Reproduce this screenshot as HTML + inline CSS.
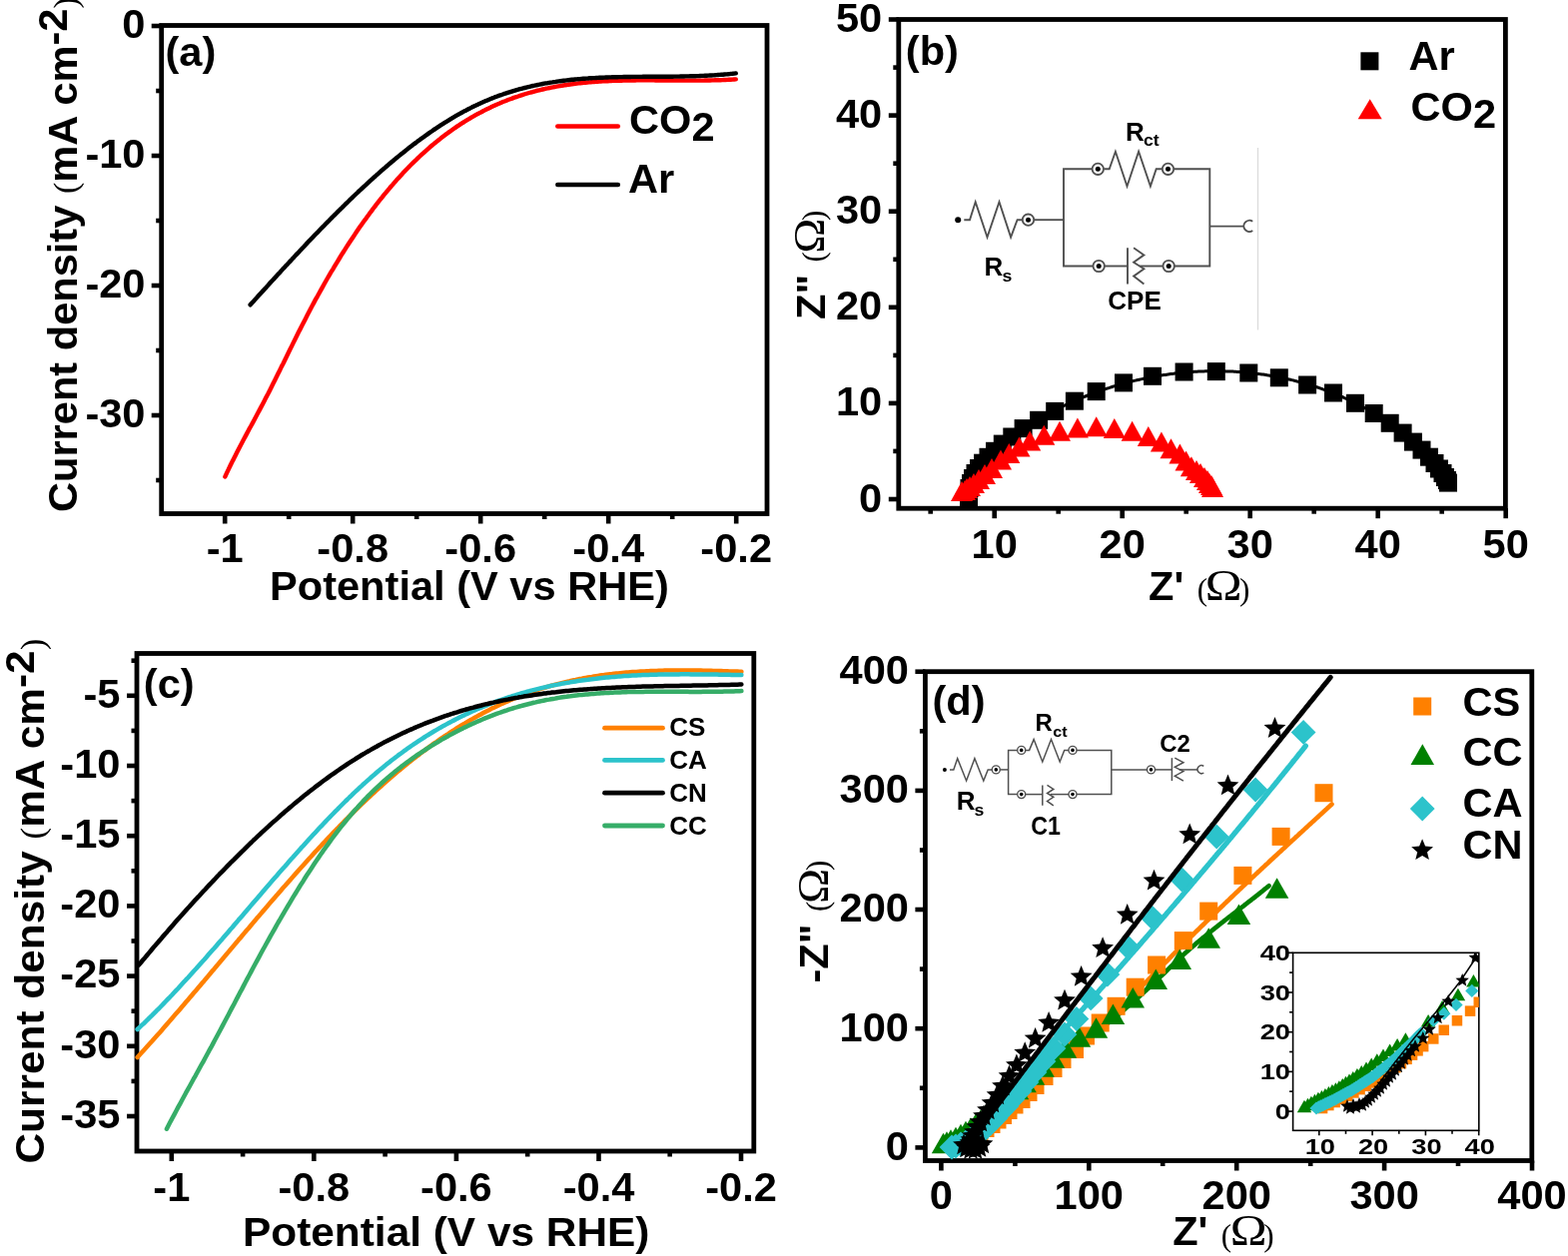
<!DOCTYPE html>
<html><head><meta charset="utf-8"><title>Figure</title>
<style>html,body{margin:0;padding:0;background:#fff;}svg{display:block;}</style></head>
<body><svg width="1570" height="1258" viewBox="0 0 1570 1258">
<rect width="1570" height="1258" fill="#fff"/>
<rect x="161.7" y="25.5" width="606.3" height="489.0" fill="none" stroke="#000" stroke-width="4.8" stroke-linejoin="miter"/><line x1="225.2" y1="514.5" x2="225.2" y2="524.5" stroke="#000" stroke-width="4.6" stroke-linecap="butt"/><line x1="353.2" y1="514.5" x2="353.2" y2="524.5" stroke="#000" stroke-width="4.6" stroke-linecap="butt"/><line x1="481.2" y1="514.5" x2="481.2" y2="524.5" stroke="#000" stroke-width="4.6" stroke-linecap="butt"/><line x1="609.2" y1="514.5" x2="609.2" y2="524.5" stroke="#000" stroke-width="4.6" stroke-linecap="butt"/><line x1="737.2" y1="514.5" x2="737.2" y2="524.5" stroke="#000" stroke-width="4.6" stroke-linecap="butt"/><line x1="289.2" y1="514.5" x2="289.2" y2="520.0" stroke="#000" stroke-width="4.6" stroke-linecap="butt"/><line x1="417.2" y1="514.5" x2="417.2" y2="520.0" stroke="#000" stroke-width="4.6" stroke-linecap="butt"/><line x1="545.2" y1="514.5" x2="545.2" y2="520.0" stroke="#000" stroke-width="4.6" stroke-linecap="butt"/><line x1="673.2" y1="514.5" x2="673.2" y2="520.0" stroke="#000" stroke-width="4.6" stroke-linecap="butt"/><line x1="151.7" y1="26.0" x2="161.7" y2="26.0" stroke="#000" stroke-width="4.6" stroke-linecap="butt"/><line x1="151.7" y1="156.0" x2="161.7" y2="156.0" stroke="#000" stroke-width="4.6" stroke-linecap="butt"/><line x1="151.7" y1="286.0" x2="161.7" y2="286.0" stroke="#000" stroke-width="4.6" stroke-linecap="butt"/><line x1="151.7" y1="416.0" x2="161.7" y2="416.0" stroke="#000" stroke-width="4.6" stroke-linecap="butt"/><line x1="156.2" y1="91.0" x2="161.7" y2="91.0" stroke="#000" stroke-width="4.6" stroke-linecap="butt"/><line x1="156.2" y1="221.0" x2="161.7" y2="221.0" stroke="#000" stroke-width="4.6" stroke-linecap="butt"/><line x1="156.2" y1="351.0" x2="161.7" y2="351.0" stroke="#000" stroke-width="4.6" stroke-linecap="butt"/><line x1="156.2" y1="481.0" x2="161.7" y2="481.0" stroke="#000" stroke-width="4.6" stroke-linecap="butt"/><text transform="translate(225.2,563.0) scale(1.040,1)" font-size="40" text-anchor="middle" font-family="'Liberation Sans', Arial, sans-serif" font-weight="bold" >-1</text><text transform="translate(353.2,563.0) scale(1.040,1)" font-size="40" text-anchor="middle" font-family="'Liberation Sans', Arial, sans-serif" font-weight="bold" >-0.8</text><text transform="translate(481.2,563.0) scale(1.040,1)" font-size="40" text-anchor="middle" font-family="'Liberation Sans', Arial, sans-serif" font-weight="bold" >-0.6</text><text transform="translate(609.2,563.0) scale(1.040,1)" font-size="40" text-anchor="middle" font-family="'Liberation Sans', Arial, sans-serif" font-weight="bold" >-0.4</text><text transform="translate(737.2,563.0) scale(1.040,1)" font-size="40" text-anchor="middle" font-family="'Liberation Sans', Arial, sans-serif" font-weight="bold" >-0.2</text><text transform="translate(145.5,38.0) scale(1.040,1)" font-size="40" text-anchor="end" font-family="'Liberation Sans', Arial, sans-serif" font-weight="bold" >0</text><text transform="translate(145.5,168.0) scale(1.040,1)" font-size="40" text-anchor="end" font-family="'Liberation Sans', Arial, sans-serif" font-weight="bold" >-10</text><text transform="translate(145.5,298.0) scale(1.040,1)" font-size="40" text-anchor="end" font-family="'Liberation Sans', Arial, sans-serif" font-weight="bold" >-20</text><text transform="translate(145.5,428.0) scale(1.040,1)" font-size="40" text-anchor="end" font-family="'Liberation Sans', Arial, sans-serif" font-weight="bold" >-30</text><text transform="translate(270.0,600.5) scale(1.040,1)" font-size="40" text-anchor="start" font-family="'Liberation Sans', Arial, sans-serif" font-weight="bold" >Potential (V vs RHE)</text><text transform="translate(77,513) rotate(-90) scale(1.040,1)" font-size="40" font-family="'Liberation Sans', Arial, sans-serif" font-weight="bold">Current density <tspan font-family="'Liberation Serif', serif" font-weight="normal" font-size="33">(</tspan>mA cm<tspan dy="-10">-2</tspan><tspan dy="10" font-family="'Liberation Serif', serif" font-weight="normal" font-size="33">)</tspan></text><text transform="translate(165.5,66.0) scale(1.040,1)" font-size="40" text-anchor="start" font-family="'Liberation Sans', Arial, sans-serif" font-weight="bold" >(a)</text><polyline points="225.4,477.4 227.1,473.7 228.8,470.1 230.5,466.5 232.2,463.0 234.0,459.6 235.7,456.2 237.4,452.8 239.1,449.5 240.8,446.3 242.5,443.0 244.2,439.8 245.9,436.6 247.6,433.4 249.3,430.2 251.1,427.0 252.8,423.9 254.5,420.7 256.2,417.5 257.9,414.3 259.6,411.1 261.3,407.9 263.0,404.7 264.7,401.4 266.4,398.1 268.2,394.8 269.9,391.4 271.6,388.0 273.3,384.6 275.0,381.2 276.7,377.8 278.4,374.3 280.1,370.9 281.8,367.4 283.6,364.0 285.3,360.5 287.0,357.0 288.7,353.5 290.4,350.1 292.1,346.6 293.8,343.1 295.5,339.7 297.2,336.3 298.9,332.8 300.7,329.4 302.4,326.1 304.1,322.7 305.8,319.4 307.5,316.1 309.2,312.8 310.9,309.5 312.6,306.3 314.3,303.1 316.0,299.9 317.8,296.8 319.5,293.7 321.2,290.6 322.9,287.6 324.6,284.5 326.3,281.5 328.0,278.5 329.7,275.6 331.4,272.7 333.2,269.8 334.9,266.9 336.6,264.1 338.3,261.3 340.0,258.5 341.7,255.7 343.4,253.0 345.1,250.3 346.8,247.6 348.5,245.0 350.3,242.3 352.0,239.7 353.7,237.2 355.4,234.6 357.1,232.1 358.8,229.6 360.5,227.1 362.2,224.7 363.9,222.3 365.7,219.9 367.4,217.5 369.1,215.2 370.8,212.8 372.5,210.6 374.2,208.3 375.9,206.1 377.6,203.8 379.3,201.7 381.0,199.5 382.8,197.4 384.5,195.2 386.2,193.2 387.9,191.1 389.6,189.1 391.3,187.0 393.0,185.1 394.7,183.1 396.4,181.2 398.1,179.2 399.9,177.4 401.6,175.5 403.3,173.6 405.0,171.8 406.7,170.0 408.4,168.3 410.1,166.5 411.8,164.8 413.5,163.1 415.3,161.4 417.0,159.8 418.7,158.1 420.4,156.5 422.1,154.9 423.8,153.4 425.5,151.8 427.2,150.3 428.9,148.8 430.6,147.3 432.4,145.8 434.1,144.4 435.8,143.0 437.5,141.6 439.2,140.2 440.9,138.9 442.6,137.5 444.3,136.2 446.0,134.9 447.7,133.7 449.5,132.4 451.2,131.2 452.9,130.0 454.6,128.8 456.3,127.6 458.0,126.4 459.7,125.3 461.4,124.2 463.1,123.1 464.9,122.0 466.6,120.9 468.3,119.9 470.0,118.9 471.7,117.8 473.4,116.9 475.1,115.9 476.8,114.9 478.5,114.0 480.2,113.1 482.0,112.2 483.7,111.3 485.4,110.4 487.1,109.5 488.8,108.7 490.5,107.9 492.2,107.1 493.9,106.3 495.6,105.5 497.3,104.7 499.1,104.0 500.8,103.3 502.5,102.5 504.2,101.8 505.9,101.2 507.6,100.5 509.3,99.8 511.0,99.2 512.7,98.6 514.5,97.9 516.2,97.3 517.9,96.8 519.6,96.2 521.3,95.6 523.0,95.1 524.7,94.5 526.4,94.0 528.1,93.5 529.8,93.0 531.6,92.5 533.3,92.1 535.0,91.6 536.7,91.2 538.4,90.7 540.1,90.3 541.8,89.9 543.5,89.5 545.2,89.1 546.9,88.7 548.7,88.4 550.4,88.0 552.1,87.6 553.8,87.3 555.5,87.0 557.2,86.7 558.9,86.4 560.6,86.1 562.3,85.8 564.1,85.5 565.8,85.2 567.5,85.0 569.2,84.7 570.9,84.5 572.6,84.3 574.3,84.0 576.0,83.8 577.7,83.6 579.4,83.4 581.2,83.2 582.9,83.1 584.6,82.9 586.3,82.7 588.0,82.6 589.7,82.4 591.4,82.3 593.1,82.1 594.8,82.0 596.5,81.9 598.3,81.7 600.0,81.6 601.7,81.5 603.4,81.4 605.1,81.3 606.8,81.2 608.5,81.2 610.2,81.1 611.9,81.0 613.7,80.9 615.4,80.9 617.1,80.8 618.8,80.8 620.5,80.7 622.2,80.7 623.9,80.6 625.6,80.6 627.3,80.6 629.0,80.5 630.8,80.5 632.5,80.5 634.2,80.5 635.9,80.5 637.6,80.4 639.3,80.4 641.0,80.4 642.7,80.4 644.4,80.4 646.2,80.4 647.9,80.4 649.6,80.4 651.3,80.4 653.0,80.4 654.7,80.4 656.4,80.5 658.1,80.5 659.8,80.5 661.5,80.5 663.3,80.5 665.0,80.5 666.7,80.5 668.4,80.5 670.1,80.5 671.8,80.6 673.5,80.6 675.2,80.6 676.9,80.6 678.6,80.6 680.4,80.6 682.1,80.6 683.8,80.6 685.5,80.6 687.2,80.6 688.9,80.6 690.6,80.6 692.3,80.6 694.0,80.6 695.8,80.6 697.5,80.6 699.2,80.6 700.9,80.6 702.6,80.6 704.3,80.6 706.0,80.5 707.7,80.5 709.4,80.5 711.1,80.5 712.9,80.4 714.6,80.4 716.3,80.3 718.0,80.3 719.7,80.2 721.4,80.2 723.1,80.1 724.8,80.0 726.5,80.0 728.2,79.9 730.0,79.8 731.7,79.7 733.4,79.6 735.1,79.5 736.8,79.4" fill="none" stroke="#ff0000" stroke-width="4.4" stroke-linejoin="round" stroke-linecap="round" /><polyline points="250.6,305.3 252.2,303.5 253.9,301.7 255.5,299.9 257.1,298.1 258.7,296.3 260.4,294.5 262.0,292.8 263.6,291.0 265.2,289.2 266.9,287.4 268.5,285.6 270.1,283.8 271.7,282.0 273.4,280.3 275.0,278.5 276.6,276.7 278.2,274.9 279.9,273.2 281.5,271.4 283.1,269.6 284.7,267.9 286.4,266.1 288.0,264.4 289.6,262.6 291.3,260.9 292.9,259.1 294.5,257.4 296.1,255.6 297.8,253.9 299.4,252.2 301.0,250.4 302.6,248.7 304.3,247.0 305.9,245.3 307.5,243.5 309.1,241.8 310.8,240.1 312.4,238.4 314.0,236.7 315.6,235.0 317.3,233.4 318.9,231.7 320.5,230.0 322.1,228.3 323.8,226.7 325.4,225.0 327.0,223.3 328.7,221.7 330.3,220.0 331.9,218.4 333.5,216.8 335.2,215.1 336.8,213.5 338.4,211.9 340.0,210.3 341.7,208.7 343.3,207.1 344.9,205.5 346.5,203.9 348.2,202.3 349.8,200.7 351.4,199.2 353.0,197.6 354.7,196.0 356.3,194.5 357.9,193.0 359.5,191.4 361.2,189.9 362.8,188.4 364.4,186.9 366.1,185.4 367.7,183.9 369.3,182.4 370.9,180.9 372.6,179.4 374.2,177.9 375.8,176.5 377.4,175.0 379.1,173.6 380.7,172.2 382.3,170.7 383.9,169.3 385.6,167.9 387.2,166.5 388.8,165.1 390.4,163.7 392.1,162.3 393.7,161.0 395.3,159.6 396.9,158.3 398.6,156.9 400.2,155.6 401.8,154.3 403.5,153.0 405.1,151.7 406.7,150.4 408.3,149.1 410.0,147.8 411.6,146.6 413.2,145.3 414.8,144.1 416.5,142.9 418.1,141.6 419.7,140.4 421.3,139.2 423.0,138.1 424.6,136.9 426.2,135.7 427.8,134.6 429.5,133.4 431.1,132.3 432.7,131.2 434.3,130.0 436.0,129.0 437.6,127.9 439.2,126.8 440.9,125.7 442.5,124.7 444.1,123.6 445.7,122.6 447.4,121.6 449.0,120.6 450.6,119.6 452.2,118.6 453.9,117.6 455.5,116.7 457.1,115.7 458.7,114.8 460.4,113.9 462.0,113.0 463.6,112.1 465.2,111.2 466.9,110.4 468.5,109.5 470.1,108.7 471.7,107.9 473.4,107.0 475.0,106.2 476.6,105.5 478.3,104.7 479.9,103.9 481.5,103.2 483.1,102.5 484.8,101.8 486.4,101.1 488.0,100.4 489.6,99.7 491.3,99.0 492.9,98.4 494.5,97.8 496.1,97.1 497.8,96.5 499.4,95.9 501.0,95.3 502.6,94.8 504.3,94.2 505.9,93.7 507.5,93.1 509.1,92.6 510.8,92.1 512.4,91.6 514.0,91.1 515.7,90.6 517.3,90.1 518.9,89.7 520.5,89.2 522.2,88.8 523.8,88.4 525.4,88.0 527.0,87.6 528.7,87.2 530.3,86.8 531.9,86.4 533.5,86.0 535.2,85.7 536.8,85.3 538.4,85.0 540.0,84.7 541.7,84.3 543.3,84.0 544.9,83.7 546.5,83.4 548.2,83.2 549.8,82.9 551.4,82.6 553.1,82.4 554.7,82.1 556.3,81.9 557.9,81.6 559.6,81.4 561.2,81.2 562.8,81.0 564.4,80.8 566.1,80.6 567.7,80.4 569.3,80.2 570.9,80.0 572.6,79.8 574.2,79.7 575.8,79.5 577.4,79.4 579.1,79.2 580.7,79.1 582.3,78.9 583.9,78.8 585.6,78.7 587.2,78.6 588.8,78.5 590.5,78.3 592.1,78.2 593.7,78.1 595.3,78.1 597.0,78.0 598.6,77.9 600.2,77.8 601.8,77.7 603.5,77.7 605.1,77.6 606.7,77.5 608.3,77.5 610.0,77.4 611.6,77.4 613.2,77.3 614.8,77.3 616.5,77.2 618.1,77.2 619.7,77.1 621.3,77.1 623.0,77.1 624.6,77.0 626.2,77.0 627.9,77.0 629.5,77.0 631.1,77.0 632.7,76.9 634.4,76.9 636.0,76.9 637.6,76.9 639.2,76.9 640.9,76.9 642.5,76.9 644.1,76.8 645.7,76.8 647.4,76.8 649.0,76.8 650.6,76.8 652.2,76.8 653.9,76.8 655.5,76.8 657.1,76.8 658.7,76.8 660.4,76.8 662.0,76.7 663.6,76.7 665.3,76.7 666.9,76.7 668.5,76.7 670.1,76.7 671.8,76.7 673.4,76.7 675.0,76.6 676.6,76.6 678.3,76.6 679.9,76.6 681.5,76.5 683.1,76.5 684.8,76.5 686.4,76.4 688.0,76.4 689.6,76.4 691.3,76.3 692.9,76.3 694.5,76.2 696.1,76.2 697.8,76.1 699.4,76.1 701.0,76.0 702.7,75.9 704.3,75.9 705.9,75.8 707.5,75.7 709.2,75.6 710.8,75.5 712.4,75.5 714.0,75.4 715.7,75.3 717.3,75.1 718.9,75.0 720.5,74.9 722.2,74.8 723.8,74.7 725.4,74.5 727.0,74.4 728.7,74.3 730.3,74.1 731.9,73.9 733.5,73.8 735.2,73.6 736.8,73.4" fill="none" stroke="#000" stroke-width="4.4" stroke-linejoin="round" stroke-linecap="round" /><line x1="558.3" y1="126.4" x2="618.8" y2="126.4" stroke="#ff0000" stroke-width="4.5" stroke-linecap="round"/><line x1="558.3" y1="185.0" x2="618.8" y2="185.0" stroke="#000" stroke-width="4.5" stroke-linecap="round"/><text transform="translate(630.0,134.4) scale(1.040,1)" font-size="40" text-anchor="start" font-family="'Liberation Sans', Arial, sans-serif" font-weight="bold" >CO<tspan dy="7">2</tspan></text><text transform="translate(629.0,192.5) scale(1.040,1)" font-size="40" text-anchor="start" font-family="'Liberation Sans', Arial, sans-serif" font-weight="bold" >Ar</text><rect x="899.8" y="19.5" width="607.6" height="489.7" fill="none" stroke="#000" stroke-width="4.8" stroke-linejoin="miter"/><line x1="995.7" y1="509.2" x2="995.7" y2="519.2" stroke="#000" stroke-width="4.6" stroke-linecap="butt"/><line x1="1123.7" y1="509.2" x2="1123.7" y2="519.2" stroke="#000" stroke-width="4.6" stroke-linecap="butt"/><line x1="1251.7" y1="509.2" x2="1251.7" y2="519.2" stroke="#000" stroke-width="4.6" stroke-linecap="butt"/><line x1="1379.7" y1="509.2" x2="1379.7" y2="519.2" stroke="#000" stroke-width="4.6" stroke-linecap="butt"/><line x1="1507.7" y1="509.2" x2="1507.7" y2="519.2" stroke="#000" stroke-width="4.6" stroke-linecap="butt"/><line x1="931.7" y1="509.2" x2="931.7" y2="514.7" stroke="#000" stroke-width="4.6" stroke-linecap="butt"/><line x1="1059.7" y1="509.2" x2="1059.7" y2="514.7" stroke="#000" stroke-width="4.6" stroke-linecap="butt"/><line x1="1187.7" y1="509.2" x2="1187.7" y2="514.7" stroke="#000" stroke-width="4.6" stroke-linecap="butt"/><line x1="1315.7" y1="509.2" x2="1315.7" y2="514.7" stroke="#000" stroke-width="4.6" stroke-linecap="butt"/><line x1="1443.7" y1="509.2" x2="1443.7" y2="514.7" stroke="#000" stroke-width="4.6" stroke-linecap="butt"/><line x1="889.8" y1="500.0" x2="899.8" y2="500.0" stroke="#000" stroke-width="4.6" stroke-linecap="butt"/><line x1="889.8" y1="403.9" x2="899.8" y2="403.9" stroke="#000" stroke-width="4.6" stroke-linecap="butt"/><line x1="889.8" y1="307.8" x2="899.8" y2="307.8" stroke="#000" stroke-width="4.6" stroke-linecap="butt"/><line x1="889.8" y1="211.7" x2="899.8" y2="211.7" stroke="#000" stroke-width="4.6" stroke-linecap="butt"/><line x1="889.8" y1="115.6" x2="899.8" y2="115.6" stroke="#000" stroke-width="4.6" stroke-linecap="butt"/><line x1="889.8" y1="19.5" x2="899.8" y2="19.5" stroke="#000" stroke-width="4.6" stroke-linecap="butt"/><line x1="894.3" y1="451.9" x2="899.8" y2="451.9" stroke="#000" stroke-width="4.6" stroke-linecap="butt"/><line x1="894.3" y1="355.9" x2="899.8" y2="355.9" stroke="#000" stroke-width="4.6" stroke-linecap="butt"/><line x1="894.3" y1="259.8" x2="899.8" y2="259.8" stroke="#000" stroke-width="4.6" stroke-linecap="butt"/><line x1="894.3" y1="163.7" x2="899.8" y2="163.7" stroke="#000" stroke-width="4.6" stroke-linecap="butt"/><line x1="894.3" y1="67.6" x2="899.8" y2="67.6" stroke="#000" stroke-width="4.6" stroke-linecap="butt"/><text transform="translate(995.7,558.5) scale(1.040,1)" font-size="40" text-anchor="middle" font-family="'Liberation Sans', Arial, sans-serif" font-weight="bold" >10</text><text transform="translate(1123.7,558.5) scale(1.040,1)" font-size="40" text-anchor="middle" font-family="'Liberation Sans', Arial, sans-serif" font-weight="bold" >20</text><text transform="translate(1251.7,558.5) scale(1.040,1)" font-size="40" text-anchor="middle" font-family="'Liberation Sans', Arial, sans-serif" font-weight="bold" >30</text><text transform="translate(1379.7,558.5) scale(1.040,1)" font-size="40" text-anchor="middle" font-family="'Liberation Sans', Arial, sans-serif" font-weight="bold" >40</text><text transform="translate(1507.7,558.5) scale(1.040,1)" font-size="40" text-anchor="middle" font-family="'Liberation Sans', Arial, sans-serif" font-weight="bold" >50</text><text transform="translate(883.2,512.5) scale(1.040,1)" font-size="40" text-anchor="end" font-family="'Liberation Sans', Arial, sans-serif" font-weight="bold" >0</text><text transform="translate(883.2,416.4) scale(1.040,1)" font-size="40" text-anchor="end" font-family="'Liberation Sans', Arial, sans-serif" font-weight="bold" >10</text><text transform="translate(883.2,320.3) scale(1.040,1)" font-size="40" text-anchor="end" font-family="'Liberation Sans', Arial, sans-serif" font-weight="bold" >20</text><text transform="translate(883.2,224.2) scale(1.040,1)" font-size="40" text-anchor="end" font-family="'Liberation Sans', Arial, sans-serif" font-weight="bold" >30</text><text transform="translate(883.2,128.1) scale(1.040,1)" font-size="40" text-anchor="end" font-family="'Liberation Sans', Arial, sans-serif" font-weight="bold" >40</text><text transform="translate(883.2,32.0) scale(1.040,1)" font-size="40" text-anchor="end" font-family="'Liberation Sans', Arial, sans-serif" font-weight="bold" >50</text><text transform="translate(906.8,64.5) scale(1.040,1)" font-size="40" text-anchor="start" font-family="'Liberation Sans', Arial, sans-serif" font-weight="bold" >(b)</text><text transform="translate(1150.0,600.8) scale(1.040,1)" font-size="40" text-anchor="start" font-family="'Liberation Sans', Arial, sans-serif" font-weight="bold" >Z'</text><text transform="translate(1198.8,601.0) scale(1.000,1)" font-size="31" text-anchor="start" font-family="'Liberation Serif', 'Times New Roman', serif" >(</text><text transform="translate(1206.8,601.0) scale(1.100,1)" font-size="45" text-anchor="start" font-family="'Liberation Serif', 'Times New Roman', serif" >&#937;</text><text transform="translate(1241.0,601.0) scale(1.000,1)" font-size="31" text-anchor="start" font-family="'Liberation Serif', 'Times New Roman', serif" >)</text><text transform="translate(825.5,320.0) rotate(-90) scale(1.040,1)" font-size="40" text-anchor="start" font-family="'Liberation Sans', Arial, sans-serif" font-weight="bold" >Z"</text><text transform="translate(825.2,262.5) rotate(-90) scale(1.000,1)" font-size="31" text-anchor="start" font-family="'Liberation Serif', 'Times New Roman', serif" >(</text><text transform="translate(825.2,253.8) rotate(-90) scale(1.050,1)" font-size="45" text-anchor="start" font-family="'Liberation Serif', 'Times New Roman', serif" >&#937;</text><text transform="translate(825.2,221.0) rotate(-90) scale(1.000,1)" font-size="31" text-anchor="start" font-family="'Liberation Serif', 'Times New Roman', serif" >)</text><rect x="1362.4" y="52.3" width="18.0" height="18.0" fill="#000"/><polygon points="1371.7,99.3 1383.7,119.3 1359.7,119.3" fill="#ff0000"/><text transform="translate(1410.5,70.1) scale(1.040,1)" font-size="40" text-anchor="start" font-family="'Liberation Sans', Arial, sans-serif" font-weight="bold" >Ar</text><text transform="translate(1412.5,121.1) scale(1.040,1)" font-size="40" text-anchor="start" font-family="'Liberation Sans', Arial, sans-serif" font-weight="bold" >CO<tspan dy="7">2</tspan></text><line x1="1259.5" y1="148" x2="1259.5" y2="330.5" stroke="#dcdcdc" stroke-width="1.3"/><circle cx="959.2" cy="220.2" r="3" fill="#000"/><path d="M965.3,220.2 L971.0,220.2 L976.7,202.2 L988.5,237.6 L1000.5,202.2 L1012.1,237.6 L1018.6,220.2 L1023.5,220.2" fill="none" stroke="#505050" stroke-width="1.9" stroke-linejoin="miter" stroke-linecap="butt"/><path d="M1035.5,220.2 L1065.0,220.2" fill="none" stroke="#505050" stroke-width="1.9" stroke-linejoin="miter" stroke-linecap="butt"/><path d="M1093.5,169.3 L1065.0,169.3 L1065.0,266.5 L1094.0,266.5" fill="none" stroke="#505050" stroke-width="1.9" stroke-linejoin="miter" stroke-linecap="butt"/><path d="M1105.3,169.3 L1110.7,169.3 L1116.9,151.8 L1128.5,186.6 L1140.1,151.8 L1151.9,186.6 L1157.7,169.3 L1163.5,169.3" fill="none" stroke="#505050" stroke-width="1.9" stroke-linejoin="miter" stroke-linecap="butt"/><path d="M1175.5,169.3 L1211.3,169.3 L1211.3,266.5 L1176.0,266.5" fill="none" stroke="#505050" stroke-width="1.9" stroke-linejoin="miter" stroke-linecap="butt"/><path d="M1106.0,266.5 L1129.0,266.5" fill="none" stroke="#505050" stroke-width="1.9" stroke-linejoin="miter" stroke-linecap="butt"/><path d="M1129.0,248.2 L1129.0,284.5" fill="none" stroke="#505050" stroke-width="1.9" stroke-linejoin="miter" stroke-linecap="butt"/><path d="M1135.1,248.2 L1145.4,255.4 L1135.1,262.7 L1145.4,269.3 L1135.1,276.6 L1145.4,284.5" fill="none" stroke="#505050" stroke-width="1.9" stroke-linejoin="miter" stroke-linecap="butt"/><path d="M1141.3,266.5 L1164.3,266.5" fill="none" stroke="#505050" stroke-width="1.9" stroke-linejoin="miter" stroke-linecap="butt"/><path d="M1211.3,226.6 L1245.3,226.6" fill="none" stroke="#505050" stroke-width="1.9" stroke-linejoin="miter" stroke-linecap="butt"/><path d="M1254.2,221.8 A5.6,5.6 0 1 0 1254.2,231.0" fill="none" stroke="#505050" stroke-width="1.9"/><circle cx="1029.5" cy="220.2" r="5.7" fill="#fff" stroke="#505050" stroke-width="1.8"/><circle cx="1029.5" cy="220.2" r="2.5" fill="#000"/><circle cx="1099.3" cy="169.3" r="5.7" fill="#fff" stroke="#505050" stroke-width="1.8"/><circle cx="1099.3" cy="169.3" r="2.5" fill="#000"/><circle cx="1169.5" cy="169.3" r="5.7" fill="#fff" stroke="#505050" stroke-width="1.8"/><circle cx="1169.5" cy="169.3" r="2.5" fill="#000"/><circle cx="1100.2" cy="266.5" r="5.7" fill="#fff" stroke="#505050" stroke-width="1.8"/><circle cx="1100.2" cy="266.5" r="2.5" fill="#000"/><circle cx="1170.2" cy="266.5" r="5.7" fill="#fff" stroke="#505050" stroke-width="1.8"/><circle cx="1170.2" cy="266.5" r="2.5" fill="#000"/><text transform="translate(1127.0,140.6) scale(1.040,1)" font-size="25" text-anchor="start" font-family="'Liberation Sans', Arial, sans-serif" font-weight="bold" >R</text><text transform="translate(1145.0,146.4) scale(1.040,1)" font-size="17" text-anchor="start" font-family="'Liberation Sans', Arial, sans-serif" font-weight="bold" >ct</text><text transform="translate(985.5,276.1) scale(1.040,1)" font-size="25" text-anchor="start" font-family="'Liberation Sans', Arial, sans-serif" font-weight="bold" >R</text><text transform="translate(1003.5,282.2) scale(1.040,1)" font-size="17" text-anchor="start" font-family="'Liberation Sans', Arial, sans-serif" font-weight="bold" >s</text><text transform="translate(1109.3,309.9) scale(1.040,1)" font-size="25" text-anchor="start" font-family="'Liberation Sans', Arial, sans-serif" font-weight="bold" >CPE</text><polyline points="965.3,481.0 966.2,480.0 967.1,479.0 968.0,478.0 969.0,477.0 969.9,476.0 970.9,474.9 971.8,473.9 972.8,473.0 973.7,472.0 974.7,471.0 975.7,470.0 976.6,469.0 977.6,468.1 978.6,467.1 979.6,466.1 980.6,465.2 981.6,464.2 982.6,463.3 983.6,462.3 984.6,461.4 985.6,460.4 986.6,459.5 987.6,458.6 988.6,457.7 989.7,456.7 990.7,455.8 991.7,454.9 992.8,454.0 993.8,453.1 994.9,452.2 995.9,451.3 997.0,450.5 998.0,449.6 999.1,448.7 1000.2,447.8 1001.2,447.0 1002.3,446.1 1003.4,445.2 1004.5,444.4 1005.5,443.5 1006.6,442.7 1007.7,441.8 1008.8,441.0 1009.9,440.2 1011.0,439.4 1012.1,438.5 1013.2,437.7 1014.4,436.9 1015.5,436.1 1016.6,435.3 1017.7,434.5 1018.8,433.7 1020.0,432.9 1021.1,432.1 1022.2,431.4 1023.4,430.6 1024.5,429.8 1025.7,429.1 1026.8,428.3 1028.0,427.5 1029.1,426.8 1030.3,426.0 1031.5,425.3 1032.6,424.6 1033.8,423.8 1035.0,423.1 1036.1,422.4 1037.3,421.7 1038.5,421.0 1039.7,420.3 1040.9,419.6 1042.1,418.9 1043.3,418.2 1044.5,417.5 1045.7,416.8 1046.9,416.1 1048.1,415.4 1049.3,414.8 1050.5,414.1 1051.7,413.5 1052.9,412.8 1054.1,412.2 1055.4,411.5 1056.6,410.9 1057.8,410.2 1059.0,409.6 1060.3,409.0 1061.5,408.4 1062.7,407.8 1064.0,407.1 1065.2,406.5 1066.5,405.9 1067.7,405.3 1069.0,404.8 1070.2,404.2 1071.5,403.6 1072.7,403.0 1074.0,402.4 1075.3,401.9 1076.5,401.3 1077.8,400.8 1079.1,400.2 1080.3,399.7 1081.6,399.1 1082.9,398.6 1084.2,398.1 1085.4,397.5 1086.7,397.0 1088.0,396.5 1089.3,396.0 1090.6,395.5 1091.9,395.0 1093.2,394.5 1094.5,394.0 1095.8,393.5 1097.1,393.1 1098.4,392.6 1099.7,392.1 1101.0,391.7 1102.3,391.2 1103.6,390.7 1104.9,390.3 1106.2,389.9 1107.5,389.4 1108.8,389.0 1110.1,388.6 1111.5,388.1 1112.8,387.7 1114.1,387.3 1115.4,386.9 1116.8,386.5 1118.1,386.1 1119.4,385.7 1120.8,385.3 1122.1,384.9 1123.4,384.6 1124.8,384.2 1126.1,383.8 1127.4,383.5 1128.8,383.1 1130.1,382.8 1131.5,382.4 1132.8,382.1 1134.1,381.8 1135.5,381.4 1136.8,381.1 1138.2,380.8 1139.5,380.5 1140.9,380.2 1142.2,379.9 1143.6,379.6 1145.0,379.3 1146.3,379.0 1147.7,378.7 1149.0,378.5 1150.4,378.2 1151.7,377.9 1153.1,377.7 1154.5,377.4 1155.8,377.2 1157.2,376.9 1158.6,376.7 1159.9,376.4 1161.3,376.2 1162.7,376.0 1164.0,375.8 1165.4,375.6 1166.8,375.4 1168.2,375.2 1169.5,375.0 1170.9,374.8 1172.3,374.6 1173.6,374.4 1175.0,374.3 1176.4,374.1 1177.8,373.9 1179.2,373.8 1180.5,373.6 1181.9,373.5 1183.3,373.3 1184.7,373.2 1186.0,373.1 1187.4,373.0 1188.8,372.8 1190.2,372.7 1191.6,372.6 1193.0,372.5 1194.3,372.4 1195.7,372.3 1197.1,372.3 1198.5,372.2 1199.9,372.1 1201.3,372.0 1202.6,372.0 1204.0,371.9 1205.4,371.9 1206.8,371.8 1208.2,371.8 1209.6,371.8 1211.0,371.7 1212.3,371.7 1213.7,371.7 1215.1,371.7 1216.5,371.7 1217.9,371.7 1219.3,371.7 1220.7,371.7 1222.0,371.7 1223.4,371.7 1224.8,371.8 1226.2,371.8 1227.6,371.9 1229.0,371.9 1230.4,371.9 1231.7,372.0 1233.1,372.1 1234.5,372.1 1235.9,372.2 1237.3,372.3 1238.7,372.4 1240.0,372.5 1241.4,372.6 1242.8,372.7 1244.2,372.8 1245.6,372.9 1246.9,373.0 1248.3,373.1 1249.7,373.3 1251.1,373.4 1252.5,373.6 1253.8,373.7 1255.2,373.9 1256.6,374.0 1258.0,374.2 1259.3,374.4 1260.7,374.6 1262.1,374.7 1263.5,374.9 1264.8,375.1 1266.2,375.3 1267.6,375.5 1268.9,375.8 1270.3,376.0 1271.7,376.2 1273.0,376.4 1274.4,376.7 1275.8,376.9 1277.1,377.2 1278.5,377.4 1279.9,377.7 1281.2,377.9 1282.6,378.2 1283.9,378.5 1285.3,378.8 1286.6,379.1 1288.0,379.4 1289.3,379.7 1290.7,380.0 1292.0,380.3 1293.4,380.6 1294.7,380.9 1296.1,381.3 1297.4,381.6 1298.8,382.0 1300.1,382.3 1301.4,382.7 1302.8,383.0 1304.1,383.4 1305.4,383.8 1306.8,384.1 1308.1,384.5 1309.4,384.9 1310.7,385.3 1312.1,385.7 1313.4,386.1 1314.7,386.5 1316.0,387.0 1317.3,387.4 1318.6,387.8 1319.9,388.2 1321.3,388.7 1322.6,389.1 1323.9,389.6 1325.2,390.1 1326.5,390.5 1327.8,391.0 1329.1,391.5 1330.3,392.0 1331.6,392.5 1332.9,393.0 1334.2,393.5 1335.5,394.0 1336.8,394.5 1338.0,395.0 1339.3,395.5 1340.6,396.1 1341.8,396.6 1343.1,397.1 1344.4,397.7 1345.6,398.3 1346.9,398.8 1348.1,399.4 1349.4,400.0 1350.6,400.5 1351.9,401.1 1353.1,401.7 1354.4,402.3 1355.6,402.9 1356.8,403.5 1358.1,404.2 1359.3,404.8 1360.5,405.4 1361.7,406.0 1363.0,406.7 1364.2,407.3 1365.4,408.0 1366.6,408.6 1367.8,409.3 1369.0,410.0 1370.2,410.7 1371.4,411.3 1372.6,412.0 1373.8,412.7 1374.9,413.4 1376.1,414.1 1377.3,414.8 1378.5,415.6 1379.6,416.3 1380.8,417.0 1382.0,417.8 1383.1,418.5 1384.3,419.2 1385.4,420.0 1386.6,420.8 1387.7,421.5 1388.8,422.3 1390.0,423.1 1391.1,423.9 1392.2,424.7 1393.3,425.5 1394.5,426.3 1395.6,427.1 1396.7,427.9 1397.8,428.7 1398.9,429.5 1400.0,430.4 1401.1,431.2 1402.2,432.1 1403.3,432.9 1404.3,433.8 1405.4,434.6 1406.5,435.5 1407.5,436.4 1408.6,437.3 1409.7,438.2 1410.7,439.0 1411.8,439.9 1412.8,440.9 1413.8,441.8 1414.9,442.7 1415.9,443.6 1416.9,444.5 1417.9,445.5 1419.0,446.4 1420.0,447.4 1421.0,448.3 1422.0,449.3 1423.0,450.3 1424.0,451.2 1424.9,452.2 1425.9,453.2 1426.9,454.2 1427.9,455.2 1428.8,456.2 1429.8,457.2 1430.7,458.2 1431.7,459.3 1432.6,460.3 1433.6,461.3 1434.5,462.4 1435.4,463.4 1436.4,464.5 1437.3,465.5 1438.2,466.6 1439.1,467.7 1440.0,468.7 1440.9,469.8 1441.8,470.9 1442.7,472.0 1443.5,473.1 1444.4,474.2 1445.3,475.3 1446.1,476.5 1447.0,477.6 1447.8,478.7 1448.7,479.9 1449.5,481.0 1450.3,482.2 1451.2,483.3" fill="none" stroke="#000" stroke-width="3" stroke-linejoin="round" stroke-linecap="round" /><rect x="961.0" y="489.0" width="18.0" height="18.0" fill="#000"/><rect x="961.0" y="485.0" width="18.0" height="18.0" fill="#000"/><rect x="961.5" y="480.0" width="18.0" height="18.0" fill="#000"/><rect x="963.0" y="475.0" width="18.0" height="18.0" fill="#000"/><rect x="965.0" y="470.0" width="18.0" height="18.0" fill="#000"/><rect x="967.5" y="465.0" width="18.0" height="18.0" fill="#000"/><rect x="971.0" y="460.0" width="18.0" height="18.0" fill="#000"/><rect x="975.1" y="454.7" width="18.0" height="18.0" fill="#000"/><rect x="980.5" y="448.8" width="18.0" height="18.0" fill="#000"/><rect x="987.0" y="442.8" width="18.0" height="18.0" fill="#000"/><rect x="994.8" y="435.6" width="18.0" height="18.0" fill="#000"/><rect x="1004.3" y="428.5" width="18.0" height="18.0" fill="#000"/><rect x="1015.6" y="420.1" width="18.0" height="18.0" fill="#000"/><rect x="1031.1" y="411.8" width="18.0" height="18.0" fill="#000"/><rect x="1047.2" y="402.9" width="18.0" height="18.0" fill="#000"/><rect x="1066.9" y="392.7" width="18.0" height="18.0" fill="#000"/><rect x="1088.7" y="383.1" width="18.0" height="18.0" fill="#000"/><rect x="1116.0" y="374.4" width="18.0" height="18.0" fill="#000"/><rect x="1145.0" y="367.8" width="18.0" height="18.0" fill="#000"/><rect x="1176.6" y="363.5" width="18.0" height="18.0" fill="#000"/><rect x="1208.8" y="363.1" width="18.0" height="18.0" fill="#000"/><rect x="1241.3" y="364.5" width="18.0" height="18.0" fill="#000"/><rect x="1271.8" y="369.3" width="18.0" height="18.0" fill="#000"/><rect x="1300.1" y="376.5" width="18.0" height="18.0" fill="#000"/><rect x="1326.0" y="384.5" width="18.0" height="18.0" fill="#000"/><rect x="1348.0" y="394.8" width="18.0" height="18.0" fill="#000"/><rect x="1366.7" y="405.0" width="18.0" height="18.0" fill="#000"/><rect x="1382.7" y="414.8" width="18.0" height="18.0" fill="#000"/><rect x="1395.6" y="424.6" width="18.0" height="18.0" fill="#000"/><rect x="1405.9" y="433.6" width="18.0" height="18.0" fill="#000"/><rect x="1414.5" y="441.6" width="18.0" height="18.0" fill="#000"/><rect x="1422.0" y="448.7" width="18.0" height="18.0" fill="#000"/><rect x="1427.5" y="455.0" width="18.0" height="18.0" fill="#000"/><rect x="1432.0" y="460.5" width="18.0" height="18.0" fill="#000"/><rect x="1435.5" y="465.0" width="18.0" height="18.0" fill="#000"/><rect x="1438.0" y="469.0" width="18.0" height="18.0" fill="#000"/><rect x="1440.0" y="472.0" width="18.0" height="18.0" fill="#000"/><rect x="1441.0" y="474.6" width="18.0" height="18.0" fill="#000"/><polygon points="963.0,482.0 974.0,502.0 952.0,502.0" fill="#ff0000"/><polygon points="966.0,481.0 977.0,501.0 955.0,501.0" fill="#ff0000"/><polygon points="968.0,479.0 979.0,499.0 957.0,499.0" fill="#ff0000"/><polygon points="971.0,477.0 982.0,497.0 960.0,497.0" fill="#ff0000"/><polygon points="975.0,474.0 986.0,494.0 964.0,494.0" fill="#ff0000"/><polygon points="980.0,470.0 991.0,490.0 969.0,490.0" fill="#ff0000"/><polygon points="986.0,465.0 997.0,485.0 975.0,485.0" fill="#ff0000"/><polygon points="993.0,459.0 1004.0,479.0 982.0,479.0" fill="#ff0000"/><polygon points="1002.0,450.6 1013.0,470.6 991.0,470.6" fill="#ff0000"/><polygon points="1010.3,444.0 1021.3,464.0 999.3,464.0" fill="#ff0000"/><polygon points="1020.5,437.5 1031.5,457.5 1009.5,457.5" fill="#ff0000"/><polygon points="1031.2,431.5 1042.2,451.5 1020.2,451.5" fill="#ff0000"/><polygon points="1045.3,425.8 1056.3,445.8 1034.3,445.8" fill="#ff0000"/><polygon points="1061.0,421.7 1072.0,441.7 1050.0,441.7" fill="#ff0000"/><polygon points="1078.9,418.5 1089.9,438.5 1067.9,438.5" fill="#ff0000"/><polygon points="1097.7,417.2 1108.7,437.2 1086.7,437.2" fill="#ff0000"/><polygon points="1115.8,418.9 1126.8,438.9 1104.8,438.9" fill="#ff0000"/><polygon points="1133.6,421.7 1144.6,441.7 1122.6,441.7" fill="#ff0000"/><polygon points="1149.8,427.1 1160.8,447.1 1138.8,447.1" fill="#ff0000"/><polygon points="1162.9,432.5 1173.9,452.5 1151.9,452.5" fill="#ff0000"/><polygon points="1172.5,439.2 1183.5,459.2 1161.5,459.2" fill="#ff0000"/><polygon points="1181.4,444.6 1192.4,464.6 1170.4,464.6" fill="#ff0000"/><polygon points="1187.5,451.6 1198.5,471.6 1176.5,471.6" fill="#ff0000"/><polygon points="1192.9,457.3 1203.9,477.3 1181.9,477.3" fill="#ff0000"/><polygon points="1198.0,461.1 1209.0,481.1 1187.0,481.1" fill="#ff0000"/><polygon points="1202.0,464.0 1213.0,484.0 1191.0,484.0" fill="#ff0000"/><polygon points="1206.0,468.0 1217.0,488.0 1195.0,488.0" fill="#ff0000"/><polygon points="1209.0,471.0 1220.0,491.0 1198.0,491.0" fill="#ff0000"/><polygon points="1211.0,474.0 1222.0,494.0 1200.0,494.0" fill="#ff0000"/><polygon points="1213.0,476.0 1224.0,496.0 1202.0,496.0" fill="#ff0000"/><polygon points="1214.0,478.0 1225.0,498.0 1203.0,498.0" fill="#ff0000"/><rect x="137.0" y="654.5" width="617.8" height="498.5" fill="none" stroke="#000" stroke-width="4.8" stroke-linejoin="miter"/><line x1="171.8" y1="1153.0" x2="171.8" y2="1163.0" stroke="#000" stroke-width="4.6" stroke-linecap="butt"/><line x1="314.3" y1="1153.0" x2="314.3" y2="1163.0" stroke="#000" stroke-width="4.6" stroke-linecap="butt"/><line x1="456.9" y1="1153.0" x2="456.9" y2="1163.0" stroke="#000" stroke-width="4.6" stroke-linecap="butt"/><line x1="599.5" y1="1153.0" x2="599.5" y2="1163.0" stroke="#000" stroke-width="4.6" stroke-linecap="butt"/><line x1="742.0" y1="1153.0" x2="742.0" y2="1163.0" stroke="#000" stroke-width="4.6" stroke-linecap="butt"/><line x1="243.1" y1="1153.0" x2="243.1" y2="1158.5" stroke="#000" stroke-width="4.6" stroke-linecap="butt"/><line x1="385.6" y1="1153.0" x2="385.6" y2="1158.5" stroke="#000" stroke-width="4.6" stroke-linecap="butt"/><line x1="528.2" y1="1153.0" x2="528.2" y2="1158.5" stroke="#000" stroke-width="4.6" stroke-linecap="butt"/><line x1="670.7" y1="1153.0" x2="670.7" y2="1158.5" stroke="#000" stroke-width="4.6" stroke-linecap="butt"/><line x1="127.0" y1="696.8" x2="137.0" y2="696.8" stroke="#000" stroke-width="4.6" stroke-linecap="butt"/><line x1="127.0" y1="767.0" x2="137.0" y2="767.0" stroke="#000" stroke-width="4.6" stroke-linecap="butt"/><line x1="127.0" y1="837.2" x2="137.0" y2="837.2" stroke="#000" stroke-width="4.6" stroke-linecap="butt"/><line x1="127.0" y1="907.4" x2="137.0" y2="907.4" stroke="#000" stroke-width="4.6" stroke-linecap="butt"/><line x1="127.0" y1="977.6" x2="137.0" y2="977.6" stroke="#000" stroke-width="4.6" stroke-linecap="butt"/><line x1="127.0" y1="1047.8" x2="137.0" y2="1047.8" stroke="#000" stroke-width="4.6" stroke-linecap="butt"/><line x1="127.0" y1="1118.0" x2="137.0" y2="1118.0" stroke="#000" stroke-width="4.6" stroke-linecap="butt"/><line x1="131.5" y1="661.7" x2="137.0" y2="661.7" stroke="#000" stroke-width="4.6" stroke-linecap="butt"/><line x1="131.5" y1="731.9" x2="137.0" y2="731.9" stroke="#000" stroke-width="4.6" stroke-linecap="butt"/><line x1="131.5" y1="802.1" x2="137.0" y2="802.1" stroke="#000" stroke-width="4.6" stroke-linecap="butt"/><line x1="131.5" y1="872.3" x2="137.0" y2="872.3" stroke="#000" stroke-width="4.6" stroke-linecap="butt"/><line x1="131.5" y1="942.5" x2="137.0" y2="942.5" stroke="#000" stroke-width="4.6" stroke-linecap="butt"/><line x1="131.5" y1="1012.7" x2="137.0" y2="1012.7" stroke="#000" stroke-width="4.6" stroke-linecap="butt"/><line x1="131.5" y1="1082.9" x2="137.0" y2="1082.9" stroke="#000" stroke-width="4.6" stroke-linecap="butt"/><text transform="translate(171.8,1203.0) scale(1.040,1)" font-size="40" text-anchor="middle" font-family="'Liberation Sans', Arial, sans-serif" font-weight="bold" >-1</text><text transform="translate(314.3,1203.0) scale(1.040,1)" font-size="40" text-anchor="middle" font-family="'Liberation Sans', Arial, sans-serif" font-weight="bold" >-0.8</text><text transform="translate(456.9,1203.0) scale(1.040,1)" font-size="40" text-anchor="middle" font-family="'Liberation Sans', Arial, sans-serif" font-weight="bold" >-0.6</text><text transform="translate(599.5,1203.0) scale(1.040,1)" font-size="40" text-anchor="middle" font-family="'Liberation Sans', Arial, sans-serif" font-weight="bold" >-0.4</text><text transform="translate(742.0,1203.0) scale(1.040,1)" font-size="40" text-anchor="middle" font-family="'Liberation Sans', Arial, sans-serif" font-weight="bold" >-0.2</text><text transform="translate(120.4,708.6) scale(1.040,1)" font-size="40" text-anchor="end" font-family="'Liberation Sans', Arial, sans-serif" font-weight="bold" >-5</text><text transform="translate(120.4,778.8) scale(1.040,1)" font-size="40" text-anchor="end" font-family="'Liberation Sans', Arial, sans-serif" font-weight="bold" >-10</text><text transform="translate(120.4,849.0) scale(1.040,1)" font-size="40" text-anchor="end" font-family="'Liberation Sans', Arial, sans-serif" font-weight="bold" >-15</text><text transform="translate(120.4,919.2) scale(1.040,1)" font-size="40" text-anchor="end" font-family="'Liberation Sans', Arial, sans-serif" font-weight="bold" >-20</text><text transform="translate(120.4,989.4) scale(1.040,1)" font-size="40" text-anchor="end" font-family="'Liberation Sans', Arial, sans-serif" font-weight="bold" >-25</text><text transform="translate(120.4,1059.6) scale(1.040,1)" font-size="40" text-anchor="end" font-family="'Liberation Sans', Arial, sans-serif" font-weight="bold" >-30</text><text transform="translate(120.4,1129.8) scale(1.040,1)" font-size="40" text-anchor="end" font-family="'Liberation Sans', Arial, sans-serif" font-weight="bold" >-35</text><text transform="translate(243.0,1247.6) scale(1.060,1)" font-size="40" text-anchor="start" font-family="'Liberation Sans', Arial, sans-serif" font-weight="bold" >Potential (V vs RHE)</text><text transform="translate(44.4,1165.5) rotate(-90) scale(1.060,1)" font-size="40" font-family="'Liberation Sans', Arial, sans-serif" font-weight="bold">Current density <tspan font-family="'Liberation Serif', serif" font-weight="normal" font-size="33">(</tspan>mA cm<tspan dy="-10">-2</tspan><tspan dy="10" font-family="'Liberation Serif', serif" font-weight="normal" font-size="33">)</tspan></text><text transform="translate(143.8,698.5) scale(1.040,1)" font-size="40" text-anchor="start" font-family="'Liberation Sans', Arial, sans-serif" font-weight="bold" >(c)</text><polyline points="137.6,1059.0 139.6,1056.8 141.6,1054.6 143.7,1052.3 145.7,1050.1 147.7,1047.8 149.7,1045.6 151.8,1043.3 153.8,1041.0 155.8,1038.8 157.8,1036.5 159.9,1034.2 161.9,1031.9 163.9,1029.6 165.9,1027.2 167.9,1024.9 170.0,1022.6 172.0,1020.3 174.0,1017.9 176.0,1015.6 178.1,1013.2 180.1,1010.9 182.1,1008.5 184.1,1006.2 186.1,1003.8 188.2,1001.4 190.2,999.1 192.2,996.7 194.2,994.3 196.3,991.9 198.3,989.6 200.3,987.2 202.3,984.8 204.4,982.4 206.4,980.0 208.4,977.6 210.4,975.2 212.4,972.8 214.5,970.4 216.5,968.0 218.5,965.6 220.5,963.2 222.6,960.8 224.6,958.4 226.6,956.0 228.6,953.6 230.6,951.2 232.7,948.8 234.7,946.4 236.7,944.0 238.7,941.6 240.8,939.2 242.8,936.8 244.8,934.4 246.8,932.0 248.9,929.7 250.9,927.3 252.9,924.9 254.9,922.5 256.9,920.1 259.0,917.8 261.0,915.4 263.0,913.0 265.0,910.7 267.1,908.3 269.1,905.9 271.1,903.6 273.1,901.2 275.1,898.9 277.2,896.6 279.2,894.2 281.2,891.9 283.2,889.6 285.3,887.3 287.3,885.0 289.3,882.7 291.3,880.4 293.4,878.1 295.4,875.8 297.4,873.5 299.4,871.2 301.4,869.0 303.5,866.7 305.5,864.5 307.5,862.2 309.5,860.0 311.6,857.8 313.6,855.6 315.6,853.3 317.6,851.2 319.6,849.0 321.7,846.8 323.7,844.6 325.7,842.5 327.7,840.3 329.8,838.2 331.8,836.0 333.8,833.9 335.8,831.8 337.9,829.7 339.9,827.6 341.9,825.5 343.9,823.5 345.9,821.4 348.0,819.4 350.0,817.4 352.0,815.3 354.0,813.3 356.1,811.3 358.1,809.4 360.1,807.4 362.1,805.4 364.1,803.5 366.2,801.6 368.2,799.7 370.2,797.8 372.2,795.9 374.3,794.0 376.3,792.1 378.3,790.3 380.3,788.5 382.4,786.7 384.4,784.9 386.4,783.1 388.4,781.3 390.4,779.5 392.5,777.8 394.5,776.1 396.5,774.3 398.5,772.6 400.6,770.9 402.6,769.3 404.6,767.6 406.6,766.0 408.6,764.3 410.7,762.7 412.7,761.1 414.7,759.5 416.7,757.9 418.8,756.4 420.8,754.8 422.8,753.3 424.8,751.8 426.9,750.3 428.9,748.8 430.9,747.3 432.9,745.9 434.9,744.4 437.0,743.0 439.0,741.6 441.0,740.2 443.0,738.8 445.1,737.4 447.1,736.1 449.1,734.8 451.1,733.4 453.1,732.1 455.2,730.8 457.2,729.5 459.2,728.3 461.2,727.0 463.3,725.8 465.3,724.6 467.3,723.4 469.3,722.2 471.4,721.0 473.4,719.9 475.4,718.7 477.4,717.6 479.4,716.5 481.5,715.4 483.5,714.3 485.5,713.2 487.5,712.2 489.6,711.2 491.6,710.1 493.6,709.1 495.6,708.2 497.6,707.2 499.7,706.2 501.7,705.3 503.7,704.4 505.7,703.5 507.8,702.6 509.8,701.7 511.8,700.8 513.8,700.0 515.9,699.2 517.9,698.3 519.9,697.5 521.9,696.8 523.9,696.0 526.0,695.2 528.0,694.5 530.0,693.8 532.0,693.1 534.1,692.4 536.1,691.7 538.1,691.0 540.1,690.4 542.1,689.7 544.2,689.1 546.2,688.5 548.2,687.9 550.2,687.3 552.3,686.7 554.3,686.2 556.3,685.6 558.3,685.1 560.4,684.6 562.4,684.1 564.4,683.6 566.4,683.1 568.4,682.6 570.5,682.2 572.5,681.7 574.5,681.3 576.5,680.9 578.6,680.4 580.6,680.0 582.6,679.7 584.6,679.3 586.6,678.9 588.7,678.5 590.7,678.2 592.7,677.9 594.7,677.5 596.8,677.2 598.8,676.9 600.8,676.6 602.8,676.3 604.9,676.1 606.9,675.8 608.9,675.5 610.9,675.3 612.9,675.1 615.0,674.8 617.0,674.6 619.0,674.4 621.0,674.2 623.1,674.0 625.1,673.8 627.1,673.6 629.1,673.5 631.1,673.3 633.2,673.1 635.2,673.0 637.2,672.9 639.2,672.7 641.3,672.6 643.3,672.5 645.3,672.4 647.3,672.3 649.4,672.2 651.4,672.1 653.4,672.0 655.4,671.9 657.4,671.9 659.5,671.8 661.5,671.7 663.5,671.7 665.5,671.6 667.6,671.6 669.6,671.6 671.6,671.5 673.6,671.5 675.6,671.5 677.7,671.5 679.7,671.5 681.7,671.5 683.7,671.4 685.8,671.5 687.8,671.5 689.8,671.5 691.8,671.5 693.9,671.5 695.9,671.5 697.9,671.6 699.9,671.6 701.9,671.6 704.0,671.7 706.0,671.7 708.0,671.7 710.0,671.8 712.1,671.8 714.1,671.9 716.1,671.9 718.1,672.0 720.1,672.0 722.2,672.1 724.2,672.2 726.2,672.2 728.2,672.3 730.3,672.4 732.3,672.4 734.3,672.5 736.3,672.6 738.4,672.6 740.4,672.7 742.4,672.8" fill="none" stroke="#ff8000" stroke-width="4.5" stroke-linejoin="round" stroke-linecap="round" /><polyline points="137.6,1031.0 139.6,1029.1 141.6,1027.2 143.7,1025.3 145.7,1023.3 147.7,1021.4 149.7,1019.4 151.8,1017.4 153.8,1015.4 155.8,1013.4 157.8,1011.3 159.9,1009.3 161.9,1007.2 163.9,1005.1 165.9,1003.0 167.9,1000.9 170.0,998.8 172.0,996.7 174.0,994.5 176.0,992.4 178.1,990.2 180.1,988.0 182.1,985.8 184.1,983.6 186.1,981.4 188.2,979.2 190.2,977.0 192.2,974.8 194.2,972.5 196.3,970.3 198.3,968.0 200.3,965.7 202.3,963.5 204.4,961.2 206.4,958.9 208.4,956.6 210.4,954.3 212.4,952.0 214.5,949.7 216.5,947.4 218.5,945.0 220.5,942.7 222.6,940.4 224.6,938.0 226.6,935.7 228.6,933.4 230.6,931.0 232.7,928.7 234.7,926.3 236.7,924.0 238.7,921.6 240.8,919.2 242.8,916.9 244.8,914.5 246.8,912.2 248.9,909.8 250.9,907.4 252.9,905.1 254.9,902.7 256.9,900.4 259.0,898.0 261.0,895.7 263.0,893.3 265.0,891.0 267.1,888.6 269.1,886.3 271.1,883.9 273.1,881.6 275.1,879.3 277.2,876.9 279.2,874.6 281.2,872.3 283.2,870.0 285.3,867.7 287.3,865.4 289.3,863.1 291.3,860.8 293.4,858.5 295.4,856.2 297.4,853.9 299.4,851.7 301.4,849.4 303.5,847.2 305.5,844.9 307.5,842.7 309.5,840.5 311.6,838.3 313.6,836.1 315.6,833.9 317.6,831.7 319.6,829.5 321.7,827.4 323.7,825.2 325.7,823.1 327.7,821.0 329.8,818.9 331.8,816.8 333.8,814.7 335.8,812.6 337.9,810.6 339.9,808.5 341.9,806.5 343.9,804.5 345.9,802.5 348.0,800.5 350.0,798.5 352.0,796.6 354.0,794.6 356.1,792.7 358.1,790.8 360.1,788.9 362.1,787.1 364.1,785.2 366.2,783.4 368.2,781.6 370.2,779.8 372.2,778.0 374.3,776.3 376.3,774.5 378.3,772.8 380.3,771.1 382.4,769.4 384.4,767.8 386.4,766.1 388.4,764.5 390.4,762.9 392.5,761.3 394.5,759.8 396.5,758.2 398.5,756.7 400.6,755.2 402.6,753.7 404.6,752.2 406.6,750.8 408.6,749.3 410.7,747.9 412.7,746.5 414.7,745.1 416.7,743.8 418.8,742.4 420.8,741.1 422.8,739.8 424.8,738.5 426.9,737.2 428.9,736.0 430.9,734.7 432.9,733.5 434.9,732.3 437.0,731.1 439.0,729.9 441.0,728.8 443.0,727.6 445.1,726.5 447.1,725.4 449.1,724.3 451.1,723.2 453.1,722.1 455.2,721.1 457.2,720.1 459.2,719.0 461.2,718.0 463.3,717.0 465.3,716.1 467.3,715.1 469.3,714.2 471.4,713.2 473.4,712.3 475.4,711.4 477.4,710.5 479.4,709.7 481.5,708.8 483.5,708.0 485.5,707.1 487.5,706.3 489.6,705.5 491.6,704.7 493.6,704.0 495.6,703.2 497.6,702.4 499.7,701.7 501.7,701.0 503.7,700.3 505.7,699.6 507.8,698.9 509.8,698.2 511.8,697.6 513.8,696.9 515.9,696.3 517.9,695.7 519.9,695.1 521.9,694.5 523.9,693.9 526.0,693.3 528.0,692.7 530.0,692.2 532.0,691.6 534.1,691.1 536.1,690.6 538.1,690.1 540.1,689.6 542.1,689.1 544.2,688.6 546.2,688.2 548.2,687.7 550.2,687.3 552.3,686.8 554.3,686.4 556.3,686.0 558.3,685.6 560.4,685.2 562.4,684.8 564.4,684.4 566.4,684.1 568.4,683.7 570.5,683.4 572.5,683.0 574.5,682.7 576.5,682.4 578.6,682.1 580.6,681.8 582.6,681.5 584.6,681.2 586.6,680.9 588.7,680.7 590.7,680.4 592.7,680.2 594.7,679.9 596.8,679.7 598.8,679.4 600.8,679.2 602.8,679.0 604.9,678.8 606.9,678.6 608.9,678.4 610.9,678.2 612.9,678.1 615.0,677.9 617.0,677.7 619.0,677.6 621.0,677.4 623.1,677.3 625.1,677.1 627.1,677.0 629.1,676.9 631.1,676.7 633.2,676.6 635.2,676.5 637.2,676.4 639.2,676.3 641.3,676.2 643.3,676.1 645.3,676.1 647.3,676.0 649.4,675.9 651.4,675.8 653.4,675.8 655.4,675.7 657.4,675.7 659.5,675.6 661.5,675.6 663.5,675.5 665.5,675.5 667.6,675.5 669.6,675.4 671.6,675.4 673.6,675.4 675.6,675.4 677.7,675.4 679.7,675.4 681.7,675.3 683.7,675.3 685.8,675.3 687.8,675.3 689.8,675.3 691.8,675.4 693.9,675.4 695.9,675.4 697.9,675.4 699.9,675.4 701.9,675.4 704.0,675.4 706.0,675.5 708.0,675.5 710.0,675.5 712.1,675.5 714.1,675.6 716.1,675.6 718.1,675.6 720.1,675.7 722.2,675.7 724.2,675.7 726.2,675.8 728.2,675.8 730.3,675.8 732.3,675.9 734.3,675.9 736.3,675.9 738.4,676.0 740.4,676.0 742.4,676.0" fill="none" stroke="#2cc3cb" stroke-width="4.5" stroke-linejoin="round" stroke-linecap="round" /><polyline points="166.9,1130.7 168.8,1127.0 170.7,1123.3 172.7,1119.7 174.6,1116.1 176.5,1112.5 178.4,1108.9 180.4,1105.3 182.3,1101.8 184.2,1098.3 186.1,1094.7 188.1,1091.2 190.0,1087.7 191.9,1084.2 193.8,1080.7 195.8,1077.3 197.7,1073.8 199.6,1070.3 201.5,1066.8 203.5,1063.3 205.4,1059.8 207.3,1056.3 209.2,1052.7 211.2,1049.2 213.1,1045.6 215.0,1042.0 216.9,1038.5 218.9,1034.8 220.8,1031.2 222.7,1027.6 224.6,1024.0 226.6,1020.3 228.5,1016.7 230.4,1013.0 232.3,1009.4 234.3,1005.7 236.2,1002.0 238.1,998.4 240.0,994.7 242.0,991.1 243.9,987.4 245.8,983.8 247.7,980.1 249.7,976.5 251.6,972.9 253.5,969.3 255.4,965.7 257.4,962.1 259.3,958.6 261.2,955.0 263.1,951.5 265.1,948.0 267.0,944.5 268.9,941.1 270.8,937.6 272.8,934.2 274.7,930.8 276.6,927.4 278.5,924.0 280.5,920.7 282.4,917.4 284.3,914.1 286.2,910.8 288.2,907.5 290.1,904.3 292.0,901.1 293.9,897.9 295.9,894.7 297.8,891.6 299.7,888.5 301.6,885.4 303.6,882.4 305.5,879.3 307.4,876.3 309.3,873.4 311.3,870.4 313.2,867.5 315.1,864.6 317.0,861.8 319.0,858.9 320.9,856.1 322.8,853.4 324.7,850.6 326.7,847.9 328.6,845.3 330.5,842.6 332.4,840.0 334.4,837.4 336.3,834.9 338.2,832.4 340.1,829.9 342.1,827.4 344.0,825.0 345.9,822.7 347.8,820.3 349.8,818.0 351.7,815.8 353.6,813.5 355.5,811.3 357.5,809.2 359.4,807.1 361.3,805.0 363.2,802.9 365.1,800.9 367.1,798.9 369.0,796.9 370.9,795.0 372.8,793.1 374.8,791.2 376.7,789.4 378.6,787.6 380.5,785.8 382.5,784.0 384.4,782.3 386.3,780.6 388.2,778.9 390.2,777.3 392.1,775.7 394.0,774.1 395.9,772.5 397.9,771.0 399.8,769.4 401.7,767.9 403.6,766.5 405.6,765.0 407.5,763.6 409.4,762.2 411.3,760.8 413.3,759.4 415.2,758.0 417.1,756.7 419.0,755.4 421.0,754.1 422.9,752.8 424.8,751.6 426.7,750.3 428.7,749.1 430.6,747.9 432.5,746.7 434.4,745.5 436.4,744.3 438.3,743.2 440.2,742.1 442.1,740.9 444.1,739.8 446.0,738.7 447.9,737.7 449.8,736.6 451.8,735.6 453.7,734.5 455.6,733.5 457.5,732.5 459.5,731.5 461.4,730.5 463.3,729.6 465.2,728.6 467.2,727.7 469.1,726.8 471.0,725.9 472.9,725.0 474.9,724.1 476.8,723.2 478.7,722.4 480.6,721.6 482.6,720.7 484.5,719.9 486.4,719.1 488.3,718.4 490.3,717.6 492.2,716.9 494.1,716.1 496.0,715.4 498.0,714.7 499.9,714.0 501.8,713.3 503.7,712.6 505.7,712.0 507.6,711.4 509.5,710.7 511.4,710.1 513.4,709.5 515.3,708.9 517.2,708.4 519.1,707.8 521.1,707.3 523.0,706.7 524.9,706.2 526.8,705.7 528.8,705.2 530.7,704.7 532.6,704.3 534.5,703.8 536.5,703.4 538.4,702.9 540.3,702.5 542.2,702.1 544.2,701.7 546.1,701.3 548.0,700.9 549.9,700.6 551.8,700.2 553.8,699.9 555.7,699.6 557.6,699.2 559.5,698.9 561.5,698.6 563.4,698.3 565.3,698.0 567.2,697.8 569.2,697.5 571.1,697.3 573.0,697.0 574.9,696.8 576.9,696.6 578.8,696.3 580.7,696.1 582.6,695.9 584.6,695.7 586.5,695.5 588.4,695.4 590.3,695.2 592.3,695.0 594.2,694.9 596.1,694.7 598.0,694.6 600.0,694.5 601.9,694.3 603.8,694.2 605.7,694.1 607.7,694.0 609.6,693.9 611.5,693.8 613.4,693.7 615.4,693.6 617.3,693.5 619.2,693.4 621.1,693.4 623.1,693.3 625.0,693.2 626.9,693.2 628.8,693.1 630.8,693.1 632.7,693.1 634.6,693.0 636.5,693.0 638.5,692.9 640.4,692.9 642.3,692.9 644.2,692.9 646.2,692.8 648.1,692.8 650.0,692.8 651.9,692.8 653.9,692.8 655.8,692.8 657.7,692.8 659.6,692.8 661.6,692.8 663.5,692.8 665.4,692.8 667.3,692.8 669.3,692.8 671.2,692.8 673.1,692.8 675.0,692.8 677.0,692.8 678.9,692.8 680.8,692.8 682.7,692.8 684.7,692.8 686.6,692.8 688.5,692.8 690.4,692.9 692.4,692.9 694.3,692.9 696.2,692.9 698.1,692.9 700.1,692.9 702.0,692.9 703.9,692.8 705.8,692.8 707.8,692.8 709.7,692.8 711.6,692.8 713.5,692.8 715.5,692.8 717.4,692.7 719.3,692.7 721.2,692.7 723.2,692.7 725.1,692.6 727.0,692.6 728.9,692.5 730.9,692.5 732.8,692.4 734.7,692.4 736.6,692.3 738.6,692.3 740.5,692.2 742.4,692.1" fill="none" stroke="#36ad68" stroke-width="4.5" stroke-linejoin="round" stroke-linecap="round" /><polyline points="138.9,966.6 140.9,964.2 142.9,961.8 145.0,959.4 147.0,957.0 149.0,954.6 151.0,952.2 153.0,949.8 155.0,947.4 157.1,945.1 159.1,942.7 161.1,940.4 163.1,938.0 165.1,935.7 167.2,933.4 169.2,931.0 171.2,928.7 173.2,926.4 175.2,924.1 177.2,921.8 179.3,919.5 181.3,917.3 183.3,915.0 185.3,912.8 187.3,910.5 189.4,908.3 191.4,906.0 193.4,903.8 195.4,901.6 197.4,899.4 199.5,897.2 201.5,895.0 203.5,892.8 205.5,890.7 207.5,888.5 209.5,886.4 211.6,884.2 213.6,882.1 215.6,880.0 217.6,877.8 219.6,875.7 221.7,873.6 223.7,871.6 225.7,869.5 227.7,867.4 229.7,865.4 231.7,863.3 233.8,861.3 235.8,859.3 237.8,857.3 239.8,855.3 241.8,853.3 243.9,851.3 245.9,849.3 247.9,847.3 249.9,845.4 251.9,843.5 253.9,841.5 256.0,839.6 258.0,837.7 260.0,835.8 262.0,833.9 264.0,832.1 266.1,830.2 268.1,828.3 270.1,826.5 272.1,824.7 274.1,822.9 276.2,821.1 278.2,819.3 280.2,817.5 282.2,815.7 284.2,814.0 286.2,812.2 288.3,810.5 290.3,808.8 292.3,807.1 294.3,805.4 296.3,803.7 298.4,802.0 300.4,800.4 302.4,798.7 304.4,797.1 306.4,795.5 308.4,793.9 310.5,792.3 312.5,790.7 314.5,789.2 316.5,787.6 318.5,786.1 320.6,784.6 322.6,783.0 324.6,781.5 326.6,780.1 328.6,778.6 330.6,777.1 332.7,775.7 334.7,774.3 336.7,772.9 338.7,771.5 340.7,770.1 342.8,768.7 344.8,767.3 346.8,766.0 348.8,764.7 350.8,763.4 352.8,762.1 354.9,760.8 356.9,759.5 358.9,758.3 360.9,757.0 362.9,755.8 365.0,754.6 367.0,753.4 369.0,752.2 371.0,751.1 373.0,749.9 375.1,748.8 377.1,747.7 379.1,746.5 381.1,745.5 383.1,744.4 385.1,743.3 387.2,742.3 389.2,741.2 391.2,740.2 393.2,739.2 395.2,738.2 397.3,737.2 399.3,736.2 401.3,735.3 403.3,734.3 405.3,733.4 407.3,732.4 409.4,731.5 411.4,730.6 413.4,729.8 415.4,728.9 417.4,728.0 419.5,727.2 421.5,726.3 423.5,725.5 425.5,724.7 427.5,723.9 429.5,723.1 431.6,722.3 433.6,721.6 435.6,720.8 437.6,720.1 439.6,719.4 441.7,718.6 443.7,717.9 445.7,717.2 447.7,716.5 449.7,715.9 451.8,715.2 453.8,714.5 455.8,713.9 457.8,713.3 459.8,712.6 461.8,712.0 463.9,711.4 465.9,710.8 467.9,710.3 469.9,709.7 471.9,709.1 474.0,708.6 476.0,708.0 478.0,707.5 480.0,707.0 482.0,706.5 484.0,705.9 486.1,705.4 488.1,705.0 490.1,704.5 492.1,704.0 494.1,703.6 496.2,703.1 498.2,702.7 500.2,702.2 502.2,701.8 504.2,701.4 506.2,701.0 508.3,700.6 510.3,700.2 512.3,699.8 514.3,699.4 516.3,699.0 518.4,698.7 520.4,698.3 522.4,698.0 524.4,697.6 526.4,697.3 528.5,697.0 530.5,696.7 532.5,696.4 534.5,696.1 536.5,695.8 538.5,695.5 540.6,695.2 542.6,694.9 544.6,694.6 546.6,694.4 548.6,694.1 550.7,693.9 552.7,693.6 554.7,693.4 556.7,693.2 558.7,692.9 560.7,692.7 562.8,692.5 564.8,692.3 566.8,692.1 568.8,691.9 570.8,691.7 572.9,691.5 574.9,691.3 576.9,691.2 578.9,691.0 580.9,690.8 582.9,690.7 585.0,690.5 587.0,690.4 589.0,690.2 591.0,690.1 593.0,689.9 595.1,689.8 597.1,689.7 599.1,689.5 601.1,689.4 603.1,689.3 605.1,689.2 607.2,689.1 609.2,689.0 611.2,688.9 613.2,688.8 615.2,688.7 617.3,688.6 619.3,688.5 621.3,688.4 623.3,688.3 625.3,688.2 627.4,688.2 629.4,688.1 631.4,688.0 633.4,687.9 635.4,687.9 637.4,687.8 639.5,687.8 641.5,687.7 643.5,687.6 645.5,687.6 647.5,687.5 649.6,687.5 651.6,687.4 653.6,687.4 655.6,687.3 657.6,687.3 659.6,687.2 661.7,687.2 663.7,687.2 665.7,687.1 667.7,687.1 669.7,687.0 671.8,687.0 673.8,687.0 675.8,686.9 677.8,686.9 679.8,686.9 681.8,686.8 683.9,686.8 685.9,686.8 687.9,686.7 689.9,686.7 691.9,686.7 694.0,686.6 696.0,686.6 698.0,686.5 700.0,686.5 702.0,686.5 704.1,686.4 706.1,686.4 708.1,686.4 710.1,686.3 712.1,686.3 714.1,686.3 716.2,686.2 718.2,686.2 720.2,686.1 722.2,686.1 724.2,686.0 726.3,686.0 728.3,685.9 730.3,685.9 732.3,685.8 734.3,685.8 736.3,685.7 738.4,685.7 740.4,685.6 742.4,685.5" fill="none" stroke="#000" stroke-width="4.5" stroke-linejoin="round" stroke-linecap="round" /><line x1="605.5" y1="729.2" x2="663.5" y2="729.2" stroke="#ff8000" stroke-width="4.8" stroke-linecap="round"/><text transform="translate(670.2,737.0) scale(1.040,1)" font-size="25" text-anchor="start" font-family="'Liberation Sans', Arial, sans-serif" font-weight="bold" >CS</text><line x1="605.5" y1="761.4" x2="663.5" y2="761.4" stroke="#2cc3cb" stroke-width="4.8" stroke-linecap="round"/><text transform="translate(670.2,769.8) scale(1.040,1)" font-size="25" text-anchor="start" font-family="'Liberation Sans', Arial, sans-serif" font-weight="bold" >CA</text><line x1="605.5" y1="794.2" x2="663.5" y2="794.2" stroke="#000" stroke-width="4.8" stroke-linecap="round"/><text transform="translate(670.2,802.6) scale(1.040,1)" font-size="25" text-anchor="start" font-family="'Liberation Sans', Arial, sans-serif" font-weight="bold" >CN</text><line x1="605.5" y1="827.0" x2="663.5" y2="827.0" stroke="#36ad68" stroke-width="4.8" stroke-linecap="round"/><text transform="translate(670.2,836.0) scale(1.040,1)" font-size="25" text-anchor="start" font-family="'Liberation Sans', Arial, sans-serif" font-weight="bold" >CC</text><rect x="926.4" y="672.7" width="607.4" height="489.8" fill="none" stroke="#000" stroke-width="4.8" stroke-linejoin="miter"/><line x1="942.4" y1="1162.5" x2="942.4" y2="1172.5" stroke="#000" stroke-width="4.6" stroke-linecap="butt"/><line x1="1090.3" y1="1162.5" x2="1090.3" y2="1172.5" stroke="#000" stroke-width="4.6" stroke-linecap="butt"/><line x1="1238.2" y1="1162.5" x2="1238.2" y2="1172.5" stroke="#000" stroke-width="4.6" stroke-linecap="butt"/><line x1="1386.1" y1="1162.5" x2="1386.1" y2="1172.5" stroke="#000" stroke-width="4.6" stroke-linecap="butt"/><line x1="1534.0" y1="1162.5" x2="1534.0" y2="1172.5" stroke="#000" stroke-width="4.6" stroke-linecap="butt"/><line x1="1016.4" y1="1162.5" x2="1016.4" y2="1168.0" stroke="#000" stroke-width="4.6" stroke-linecap="butt"/><line x1="1164.2" y1="1162.5" x2="1164.2" y2="1168.0" stroke="#000" stroke-width="4.6" stroke-linecap="butt"/><line x1="1312.2" y1="1162.5" x2="1312.2" y2="1168.0" stroke="#000" stroke-width="4.6" stroke-linecap="butt"/><line x1="1460.0" y1="1162.5" x2="1460.0" y2="1168.0" stroke="#000" stroke-width="4.6" stroke-linecap="butt"/><line x1="916.4" y1="1149.4" x2="926.4" y2="1149.4" stroke="#000" stroke-width="4.6" stroke-linecap="butt"/><line x1="916.4" y1="1030.2" x2="926.4" y2="1030.2" stroke="#000" stroke-width="4.6" stroke-linecap="butt"/><line x1="916.4" y1="911.0" x2="926.4" y2="911.0" stroke="#000" stroke-width="4.6" stroke-linecap="butt"/><line x1="916.4" y1="791.9" x2="926.4" y2="791.9" stroke="#000" stroke-width="4.6" stroke-linecap="butt"/><line x1="916.4" y1="672.7" x2="926.4" y2="672.7" stroke="#000" stroke-width="4.6" stroke-linecap="butt"/><line x1="920.9" y1="1089.8" x2="926.4" y2="1089.8" stroke="#000" stroke-width="4.6" stroke-linecap="butt"/><line x1="920.9" y1="970.6" x2="926.4" y2="970.6" stroke="#000" stroke-width="4.6" stroke-linecap="butt"/><line x1="920.9" y1="851.5" x2="926.4" y2="851.5" stroke="#000" stroke-width="4.6" stroke-linecap="butt"/><line x1="920.9" y1="732.3" x2="926.4" y2="732.3" stroke="#000" stroke-width="4.6" stroke-linecap="butt"/><text transform="translate(942.4,1210.5) scale(1.040,1)" font-size="40" text-anchor="middle" font-family="'Liberation Sans', Arial, sans-serif" font-weight="bold" >0</text><text transform="translate(910.0,1161.7) scale(1.040,1)" font-size="40" text-anchor="end" font-family="'Liberation Sans', Arial, sans-serif" font-weight="bold" >0</text><text transform="translate(1090.3,1210.5) scale(1.040,1)" font-size="40" text-anchor="middle" font-family="'Liberation Sans', Arial, sans-serif" font-weight="bold" >100</text><text transform="translate(910.0,1042.5) scale(1.040,1)" font-size="40" text-anchor="end" font-family="'Liberation Sans', Arial, sans-serif" font-weight="bold" >100</text><text transform="translate(1238.2,1210.5) scale(1.040,1)" font-size="40" text-anchor="middle" font-family="'Liberation Sans', Arial, sans-serif" font-weight="bold" >200</text><text transform="translate(910.0,923.3) scale(1.040,1)" font-size="40" text-anchor="end" font-family="'Liberation Sans', Arial, sans-serif" font-weight="bold" >200</text><text transform="translate(1386.1,1210.5) scale(1.040,1)" font-size="40" text-anchor="middle" font-family="'Liberation Sans', Arial, sans-serif" font-weight="bold" >300</text><text transform="translate(910.0,804.2) scale(1.040,1)" font-size="40" text-anchor="end" font-family="'Liberation Sans', Arial, sans-serif" font-weight="bold" >300</text><text transform="translate(1534.0,1210.5) scale(1.040,1)" font-size="40" text-anchor="middle" font-family="'Liberation Sans', Arial, sans-serif" font-weight="bold" >400</text><text transform="translate(910.0,685.0) scale(1.040,1)" font-size="40" text-anchor="end" font-family="'Liberation Sans', Arial, sans-serif" font-weight="bold" >400</text><text transform="translate(933.5,716.2) scale(1.040,1)" font-size="40" text-anchor="start" font-family="'Liberation Sans', Arial, sans-serif" font-weight="bold" >(d)</text><text transform="translate(1174.2,1247.2) scale(1.040,1)" font-size="40" text-anchor="start" font-family="'Liberation Sans', Arial, sans-serif" font-weight="bold" >Z'</text><text transform="translate(1222.8,1247.5) scale(1.000,1)" font-size="31" text-anchor="start" font-family="'Liberation Serif', 'Times New Roman', serif" >(</text><text transform="translate(1231.7,1247.2) scale(1.100,1)" font-size="45" text-anchor="start" font-family="'Liberation Serif', 'Times New Roman', serif" >&#937;</text><text transform="translate(1265.3,1247.5) scale(1.000,1)" font-size="31" text-anchor="start" font-family="'Liberation Serif', 'Times New Roman', serif" >)</text><text transform="translate(828.7,984.5) rotate(-90) scale(1.040,1)" font-size="40" text-anchor="start" font-family="'Liberation Sans', Arial, sans-serif" font-weight="bold" >-Z"</text><text transform="translate(828.7,913.0) rotate(-90) scale(1.000,1)" font-size="31" text-anchor="start" font-family="'Liberation Serif', 'Times New Roman', serif" >(</text><text transform="translate(828.7,905.0) rotate(-90) scale(1.050,1)" font-size="45" text-anchor="start" font-family="'Liberation Serif', 'Times New Roman', serif" >&#937;</text><text transform="translate(828.7,872.0) rotate(-90) scale(1.000,1)" font-size="31" text-anchor="start" font-family="'Liberation Serif', 'Times New Roman', serif" >)</text><rect x="1415.2" y="698.5" width="18.0" height="18.0" fill="#ff8000"/><polygon points="1424.3,745.2 1436.0,766.0 1412.5,766.0" fill="#008000"/><polygon points="1424.2,797.6 1436.6,810.0 1424.2,822.4 1411.8,810.0" fill="#2cc3cb"/><polygon points="1424.1,840.3 1427.1,847.6 1435.0,848.2 1429.0,853.4 1430.9,861.1 1424.1,857.0 1417.3,861.1 1419.2,853.4 1413.2,848.2 1421.1,847.6" fill="#000"/><text transform="translate(1464.5,716.6) scale(1.040,1)" font-size="40" text-anchor="start" font-family="'Liberation Sans', Arial, sans-serif" font-weight="bold" >CS</text><text transform="translate(1464.5,766.6) scale(1.040,1)" font-size="40" text-anchor="start" font-family="'Liberation Sans', Arial, sans-serif" font-weight="bold" >CC</text><text transform="translate(1464.5,817.5) scale(1.040,1)" font-size="40" text-anchor="start" font-family="'Liberation Sans', Arial, sans-serif" font-weight="bold" >CA</text><text transform="translate(1464.5,860.4) scale(1.040,1)" font-size="40" text-anchor="start" font-family="'Liberation Sans', Arial, sans-serif" font-weight="bold" >CN</text><circle cx="945.9" cy="770.9" r="2" fill="#000"/><path d="M951.0,770.9 L954.8,770.9 L958.7,759.7 L967.6,782.0 L975.9,759.7 L984.8,782.0 L989.2,770.9 L993.3,770.9" fill="none" stroke="#505050" stroke-width="1.5" stroke-linejoin="miter" stroke-linecap="butt"/><path d="M1001.3,770.9 L1009.6,770.9" fill="none" stroke="#505050" stroke-width="1.5" stroke-linejoin="miter" stroke-linecap="butt"/><path d="M1018.7,751.4 L1009.6,751.4 L1009.6,795.6 L1018.7,795.6" fill="none" stroke="#505050" stroke-width="1.5" stroke-linejoin="miter" stroke-linecap="butt"/><path d="M1026.7,751.4 L1030.6,751.4 L1035.1,740.6 L1043.8,762.9 L1052.5,740.6 L1061.2,762.9 L1065.7,751.4 L1070.0,751.4" fill="none" stroke="#505050" stroke-width="1.5" stroke-linejoin="miter" stroke-linecap="butt"/><path d="M1078.0,751.4 L1112.8,751.4 L1112.8,795.6 L1078.0,795.6" fill="none" stroke="#505050" stroke-width="1.5" stroke-linejoin="miter" stroke-linecap="butt"/><path d="M1026.7,795.6 L1043.8,795.6" fill="none" stroke="#505050" stroke-width="1.5" stroke-linejoin="miter" stroke-linecap="butt"/><path d="M1043.8,786.4 L1043.8,806.8" fill="none" stroke="#505050" stroke-width="1.5" stroke-linejoin="miter" stroke-linecap="butt"/><path d="M1048.5,786.4 L1054.8,790.4 L1048.5,794.5 L1054.8,798.3 L1048.5,802.4 L1054.8,806.8" fill="none" stroke="#505050" stroke-width="1.5" stroke-linejoin="miter" stroke-linecap="butt"/><path d="M1051.8,795.6 L1070.0,795.6" fill="none" stroke="#505050" stroke-width="1.5" stroke-linejoin="miter" stroke-linecap="butt"/><path d="M1112.8,770.9 L1148.5,770.9" fill="none" stroke="#505050" stroke-width="1.5" stroke-linejoin="miter" stroke-linecap="butt"/><path d="M1156.5,770.9 L1173.4,770.9" fill="none" stroke="#505050" stroke-width="1.5" stroke-linejoin="miter" stroke-linecap="butt"/><path d="M1173.4,759.2 L1173.4,782.1" fill="none" stroke="#505050" stroke-width="1.5" stroke-linejoin="miter" stroke-linecap="butt"/><path d="M1176.3,759.2 L1184.9,763.7 L1176.3,768.3 L1184.9,772.6 L1176.3,777.2 L1184.9,782.1" fill="none" stroke="#505050" stroke-width="1.5" stroke-linejoin="miter" stroke-linecap="butt"/><path d="M1180.6,770.9 L1199.2,770.9" fill="none" stroke="#505050" stroke-width="1.5" stroke-linejoin="miter" stroke-linecap="butt"/><path d="M1205.3,767.4 A4,4 0 1 0 1205.3,774.0" fill="none" stroke="#505050" stroke-width="1.5"/><circle cx="997.3" cy="770.9" r="4" fill="#fff" stroke="#505050" stroke-width="1.4"/><circle cx="997.3" cy="770.9" r="1.8" fill="#000"/><circle cx="1022.7" cy="751.4" r="4" fill="#fff" stroke="#505050" stroke-width="1.4"/><circle cx="1022.7" cy="751.4" r="1.8" fill="#000"/><circle cx="1074.0" cy="751.4" r="4" fill="#fff" stroke="#505050" stroke-width="1.4"/><circle cx="1074.0" cy="751.4" r="1.8" fill="#000"/><circle cx="1022.7" cy="795.6" r="4" fill="#fff" stroke="#505050" stroke-width="1.4"/><circle cx="1022.7" cy="795.6" r="1.8" fill="#000"/><circle cx="1074.0" cy="795.6" r="4" fill="#fff" stroke="#505050" stroke-width="1.4"/><circle cx="1074.0" cy="795.6" r="1.8" fill="#000"/><circle cx="1152.5" cy="770.9" r="4" fill="#fff" stroke="#505050" stroke-width="1.4"/><circle cx="1152.5" cy="770.9" r="1.8" fill="#000"/><text transform="translate(1036.6,732.3) scale(1.040,1)" font-size="23" text-anchor="start" font-family="'Liberation Sans', Arial, sans-serif" font-weight="bold" >R</text><text transform="translate(1054.3,738.0) scale(1.040,1)" font-size="15.5" text-anchor="start" font-family="'Liberation Sans', Arial, sans-serif" font-weight="bold" >ct</text><text transform="translate(957.7,811.3) scale(1.040,1)" font-size="25" text-anchor="start" font-family="'Liberation Sans', Arial, sans-serif" font-weight="bold" >R</text><text transform="translate(975.5,817.0) scale(1.040,1)" font-size="17" text-anchor="start" font-family="'Liberation Sans', Arial, sans-serif" font-weight="bold" >s</text><text transform="translate(1032.2,835.5) scale(0.930,1)" font-size="25" text-anchor="start" font-family="'Liberation Sans', Arial, sans-serif" font-weight="bold" >C1</text><text transform="translate(1161.2,752.5) scale(1.040,1)" font-size="23" text-anchor="start" font-family="'Liberation Sans', Arial, sans-serif" font-weight="bold" >C2</text><polyline points="945.0,1152.0 946.1,1151.2 947.2,1150.3 948.4,1149.5 949.5,1148.6 950.6,1147.8 951.7,1146.9 952.9,1146.1 954.0,1145.2 955.1,1144.4 956.2,1143.5 957.3,1142.7 958.5,1141.8 959.6,1141.0 960.7,1140.1 961.8,1139.3 962.9,1138.5 964.1,1137.6 965.2,1136.8 966.3,1135.9 967.4,1135.1 968.6,1134.2 969.7,1133.4 970.8,1132.5 971.9,1131.7 973.0,1130.8 974.2,1130.0 975.3,1129.1 976.4,1128.3 977.5,1127.5 978.7,1126.6 979.8,1125.8 980.9,1124.9 982.0,1124.1 983.1,1123.2 984.3,1122.4 985.4,1121.5 986.5,1120.7 987.6,1119.8 988.7,1119.0 989.9,1118.1 991.0,1117.3 992.1,1116.4 993.2,1115.6 994.3,1114.7 995.5,1113.9 996.6,1113.0 997.7,1112.2 998.8,1111.3 999.9,1110.5 1001.1,1109.6 1002.2,1108.8 1003.3,1107.9 1004.4,1107.1 1005.5,1106.2 1006.7,1105.4 1007.8,1104.5 1008.9,1103.7 1010.0,1102.8 1011.1,1102.0 1012.3,1101.1 1013.4,1100.3 1014.5,1099.4 1015.6,1098.6 1016.7,1097.7 1017.8,1096.9 1019.0,1096.0 1020.1,1095.2 1021.2,1094.3 1022.3,1093.5 1023.4,1092.6 1024.5,1091.8 1025.7,1090.9 1026.8,1090.0 1027.9,1089.2 1029.0,1088.3 1030.1,1087.5 1031.2,1086.6 1032.3,1085.8 1033.5,1084.9 1034.6,1084.1 1035.7,1083.2 1036.8,1082.3 1037.9,1081.5 1039.0,1080.6 1040.1,1079.8 1041.3,1078.9 1042.4,1078.0 1043.5,1077.2 1044.6,1076.3 1045.7,1075.5 1046.8,1074.6 1047.9,1073.7 1049.0,1072.9 1050.1,1072.0 1051.2,1071.2 1052.4,1070.3 1053.5,1069.4 1054.6,1068.6 1055.7,1067.7 1056.8,1066.8 1057.9,1066.0 1059.0,1065.1 1060.1,1064.2 1061.2,1063.4 1062.3,1062.5 1063.4,1061.6 1064.5,1060.8 1065.6,1059.9 1066.7,1059.0 1067.9,1058.2 1069.0,1057.3 1070.1,1056.4 1071.2,1055.5 1072.3,1054.7 1073.4,1053.8 1074.5,1052.9 1075.6,1052.1 1076.7,1051.2 1077.8,1050.3 1078.9,1049.4 1080.0,1048.6 1081.1,1047.7 1082.2,1046.8 1083.3,1045.9 1084.4,1045.1 1085.5,1044.2 1086.6,1043.3 1087.7,1042.4 1088.8,1041.5 1089.9,1040.7 1091.0,1039.8 1092.0,1038.9 1093.1,1038.0 1094.2,1037.1 1095.3,1036.2 1096.4,1035.4 1097.5,1034.5 1098.6,1033.6 1099.7,1032.7 1100.8,1031.8 1101.9,1030.9 1103.0,1030.0 1104.1,1029.2 1105.2,1028.3 1106.2,1027.4 1107.3,1026.5 1108.4,1025.6 1109.5,1024.7 1110.6,1023.8 1111.7,1022.9 1112.8,1022.0 1113.8,1021.1 1114.9,1020.2 1116.0,1019.3 1117.1,1018.4 1118.2,1017.5 1119.2,1016.6 1120.3,1015.7 1121.4,1014.8 1122.5,1013.9 1123.5,1013.0 1124.6,1012.1 1125.7,1011.2 1126.7,1010.3 1127.8,1009.3 1128.9,1008.4 1129.9,1007.5 1131.0,1006.6 1132.1,1005.7 1133.1,1004.8 1134.2,1003.8 1135.2,1002.9 1136.3,1002.0 1137.4,1001.1 1138.4,1000.1 1139.5,999.2 1140.5,998.3 1141.6,997.3 1142.6,996.4 1143.6,995.5 1144.7,994.5 1145.7,993.6 1146.8,992.6 1147.8,991.7 1148.8,990.7 1149.9,989.8 1150.9,988.8 1151.9,987.9 1152.9,986.9 1154.0,986.0 1155.0,985.0 1156.0,984.0 1157.0,983.1 1158.0,982.1 1159.0,981.1 1160.0,980.1 1161.0,979.2 1162.0,978.2 1163.0,977.2 1164.1,976.2 1165.1,975.3 1166.1,974.3 1167.1,973.3 1168.1,972.3 1169.1,971.3 1170.1,970.4 1171.1,969.4 1172.1,968.4 1173.1,967.4 1174.1,966.5 1175.1,965.5 1176.1,964.5 1177.1,963.6 1178.1,962.6 1179.1,961.6 1180.2,960.7 1181.2,959.7 1182.2,958.8 1183.2,957.8 1184.3,956.9 1185.3,955.9 1186.3,955.0 1187.4,954.0 1188.4,953.1 1189.5,952.2 1190.5,951.3 1191.6,950.3 1192.6,949.4 1193.7,948.5 1194.7,947.6 1195.8,946.7 1196.9,945.7 1197.9,944.8 1199.0,943.9 1200.1,943.0 1201.1,942.1 1202.2,941.2 1203.3,940.3 1204.4,939.4 1205.5,938.5 1206.5,937.7 1207.6,936.8 1208.7,935.9 1209.8,935.0 1210.9,934.1 1212.0,933.2 1213.1,932.4 1214.2,931.5 1215.3,930.6 1216.4,929.7 1217.5,928.9 1218.6,928.0 1219.7,927.1 1220.8,926.2 1221.9,925.4 1223.0,924.5 1224.1,923.6 1225.2,922.8 1226.3,921.9 1227.5,921.0 1228.6,920.2 1229.7,919.3 1230.8,918.4 1231.9,917.6 1233.0,916.7 1234.1,915.9 1235.2,915.0 1236.4,914.1 1237.5,913.3 1238.6,912.4 1239.7,911.6 1240.8,910.7 1241.9,909.8 1243.0,909.0 1244.2,908.1 1245.3,907.3 1246.4,906.4 1247.5,905.5 1248.6,904.7 1249.7,903.8 1250.8,902.9 1251.9,902.1 1253.0,901.2 1254.1,900.3 1255.3,899.5 1256.4,898.6 1257.5,897.7 1258.6,896.9 1259.7,896.0 1260.8,895.1 1261.9,894.2 1263.0,893.4 1264.1,892.5 1265.1,891.6 1266.2,890.7 1267.3,889.8 1268.4,889.0 1269.5,888.1 1270.6,887.2" fill="none" stroke="#008000" stroke-width="4.6" stroke-linejoin="round" stroke-linecap="round" /><polyline points="949.8,1146.0 951.4,1145.1 952.9,1144.2 954.4,1143.4 955.9,1142.5 957.4,1141.7 958.9,1140.8 960.4,1139.9 961.9,1139.0 963.4,1138.1 964.9,1137.3 966.4,1136.4 967.9,1135.5 969.4,1134.6 970.8,1133.7 972.3,1132.7 973.8,1131.8 975.2,1130.9 976.7,1130.0 978.2,1129.1 979.6,1128.1 981.1,1127.2 982.5,1126.2 983.9,1125.3 985.4,1124.4 986.8,1123.4 988.3,1122.4 989.7,1121.5 991.1,1120.5 992.5,1119.5 994.0,1118.6 995.4,1117.6 996.8,1116.6 998.2,1115.6 999.6,1114.7 1001.0,1113.7 1002.4,1112.7 1003.8,1111.7 1005.2,1110.7 1006.6,1109.7 1008.0,1108.6 1009.4,1107.6 1010.8,1106.6 1012.2,1105.6 1013.5,1104.6 1014.9,1103.6 1016.3,1102.5 1017.7,1101.5 1019.0,1100.5 1020.4,1099.4 1021.8,1098.4 1023.1,1097.3 1024.5,1096.3 1025.8,1095.2 1027.2,1094.2 1028.5,1093.1 1029.9,1092.0 1031.2,1091.0 1032.6,1089.9 1033.9,1088.8 1035.2,1087.8 1036.6,1086.7 1037.9,1085.6 1039.2,1084.5 1040.6,1083.4 1041.9,1082.4 1043.2,1081.3 1044.5,1080.2 1045.9,1079.1 1047.2,1078.0 1048.5,1076.9 1049.8,1075.8 1051.1,1074.7 1052.4,1073.5 1053.7,1072.4 1055.0,1071.3 1056.3,1070.2 1057.6,1069.1 1058.9,1068.0 1060.2,1066.8 1061.5,1065.7 1062.8,1064.6 1064.1,1063.4 1065.4,1062.3 1066.6,1061.2 1067.9,1060.0 1069.2,1058.9 1070.5,1057.7 1071.8,1056.6 1073.0,1055.5 1074.3,1054.3 1075.6,1053.2 1076.9,1052.0 1078.1,1050.8 1079.4,1049.7 1080.7,1048.5 1081.9,1047.4 1083.2,1046.2 1084.5,1045.0 1085.7,1043.9 1087.0,1042.7 1088.2,1041.5 1089.5,1040.4 1090.7,1039.2 1092.0,1038.0 1093.2,1036.8 1094.5,1035.6 1095.7,1034.5 1097.0,1033.3 1098.2,1032.1 1099.5,1030.9 1100.7,1029.7 1102.0,1028.5 1103.2,1027.3 1104.4,1026.2 1105.7,1025.0 1106.9,1023.8 1108.1,1022.6 1109.4,1021.4 1110.6,1020.2 1111.8,1019.0 1113.1,1017.8 1114.3,1016.6 1115.5,1015.4 1116.8,1014.2 1118.0,1013.0 1119.2,1011.8 1120.5,1010.6 1121.7,1009.3 1122.9,1008.1 1124.1,1006.9 1125.3,1005.7 1126.6,1004.5 1127.8,1003.3 1129.0,1002.1 1130.2,1000.9 1131.5,999.6 1132.7,998.4 1133.9,997.2 1135.1,996.0 1136.3,994.8 1137.5,993.6 1138.8,992.3 1140.0,991.1 1141.2,989.9 1142.4,988.7 1143.6,987.5 1144.8,986.2 1146.0,985.0 1147.3,983.8 1148.5,982.6 1149.7,981.4 1150.9,980.1 1152.1,978.9 1153.3,977.7 1154.5,976.5 1155.7,975.2 1157.0,974.0 1158.2,972.8 1159.4,971.6 1160.6,970.3 1161.8,969.1 1163.0,967.9 1164.2,966.7 1165.4,965.4 1166.7,964.2 1167.9,963.0 1169.1,961.8 1170.3,960.6 1171.5,959.3 1172.7,958.1 1173.9,956.9 1175.1,955.7 1176.3,954.4 1177.6,953.2 1178.8,952.0 1180.0,950.8 1181.2,949.6 1182.4,948.3 1183.6,947.1 1184.8,945.9 1186.1,944.7 1187.3,943.5 1188.5,942.2 1189.7,941.0 1190.9,939.8 1192.1,938.6 1193.4,937.4 1194.6,936.2 1195.8,934.9 1197.0,933.7 1198.2,932.5 1199.5,931.3 1200.7,930.1 1201.9,928.9 1203.1,927.7 1204.4,926.5 1205.6,925.3 1206.8,924.1 1208.0,922.9 1209.3,921.7 1210.5,920.5 1211.7,919.3 1213.0,918.1 1214.2,916.9 1215.4,915.7 1216.6,914.5 1217.9,913.3 1219.1,912.1 1220.4,910.9 1221.6,909.7 1222.8,908.5 1224.1,907.3 1225.3,906.1 1226.5,904.9 1227.8,903.7 1229.0,902.5 1230.3,901.4 1231.5,900.2 1232.7,899.0 1234.0,897.8 1235.2,896.6 1236.5,895.4 1237.7,894.2 1239.0,893.1 1240.2,891.9 1241.4,890.7 1242.7,889.5 1243.9,888.3 1245.2,887.2 1246.4,886.0 1247.7,884.8 1248.9,883.6 1250.2,882.4 1251.4,881.3 1252.7,880.1 1253.9,878.9 1255.2,877.7 1256.4,876.6 1257.7,875.4 1259.0,874.2 1260.2,873.0 1261.5,871.9 1262.7,870.7 1264.0,869.5 1265.2,868.4 1266.5,867.2 1267.7,866.0 1269.0,864.9 1270.3,863.7 1271.5,862.5 1272.8,861.3 1274.0,860.2 1275.3,859.0 1276.6,857.8 1277.8,856.7 1279.1,855.5 1280.3,854.3 1281.6,853.2 1282.9,852.0 1284.1,850.8 1285.4,849.7 1286.7,848.5 1287.9,847.3 1289.2,846.2 1290.4,845.0 1291.7,843.9 1293.0,842.7 1294.2,841.5 1295.5,840.4 1296.8,839.2 1298.0,838.0 1299.3,836.9 1300.6,835.7 1301.8,834.5 1303.1,833.4 1304.4,832.2 1305.6,831.1 1306.9,829.9 1308.2,828.7 1309.4,827.6 1310.7,826.4 1312.0,825.2 1313.2,824.1 1314.5,822.9 1315.8,821.8 1317.0,820.6 1318.3,819.4 1319.6,818.3 1320.8,817.1 1322.1,815.9 1323.4,814.8 1324.7,813.6 1325.9,812.4 1327.2,811.3 1328.5,810.1 1329.7,808.9 1331.0,807.8 1332.3,806.6 1333.5,805.5" fill="none" stroke="#ff8000" stroke-width="4.6" stroke-linejoin="round" stroke-linecap="round" /><rect x="952.5" y="1138.0" width="18.0" height="18.0" fill="#ff8000"/><rect x="956.5" y="1135.0" width="18.0" height="18.0" fill="#ff8000"/><rect x="961.5" y="1131.5" width="18.0" height="18.0" fill="#ff8000"/><rect x="966.5" y="1128.0" width="18.0" height="18.0" fill="#ff8000"/><rect x="971.5" y="1124.5" width="18.0" height="18.0" fill="#ff8000"/><rect x="977.5" y="1121.0" width="18.0" height="18.0" fill="#ff8000"/><rect x="983.5" y="1117.0" width="18.0" height="18.0" fill="#ff8000"/><rect x="989.5" y="1112.5" width="18.0" height="18.0" fill="#ff8000"/><rect x="995.0" y="1108.0" width="18.0" height="18.0" fill="#ff8000"/><rect x="1000.5" y="1103.0" width="18.0" height="18.0" fill="#ff8000"/><rect x="1006.5" y="1097.5" width="18.0" height="18.0" fill="#ff8000"/><rect x="1013.5" y="1092.0" width="18.0" height="18.0" fill="#ff8000"/><rect x="1020.5" y="1085.0" width="18.0" height="18.0" fill="#ff8000"/><rect x="1027.5" y="1078.0" width="18.0" height="18.0" fill="#ff8000"/><rect x="1036.5" y="1069.0" width="18.0" height="18.0" fill="#ff8000"/><rect x="1045.5" y="1061.0" width="18.0" height="18.0" fill="#ff8000"/><rect x="1054.5" y="1052.0" width="18.0" height="18.0" fill="#ff8000"/><rect x="1067.0" y="1042.0" width="18.0" height="18.0" fill="#ff8000"/><rect x="1078.0" y="1028.5" width="18.0" height="18.0" fill="#ff8000"/><rect x="1092.7" y="1015.5" width="18.0" height="18.0" fill="#ff8000"/><rect x="1108.6" y="998.8" width="18.0" height="18.0" fill="#ff8000"/><rect x="1127.7" y="979.7" width="18.0" height="18.0" fill="#ff8000"/><rect x="1149.1" y="957.5" width="18.0" height="18.0" fill="#ff8000"/><rect x="1175.8" y="933.1" width="18.0" height="18.0" fill="#ff8000"/><rect x="1201.2" y="903.6" width="18.0" height="18.0" fill="#ff8000"/><rect x="1235.4" y="867.9" width="18.0" height="18.0" fill="#ff8000"/><rect x="1273.6" y="828.9" width="18.0" height="18.0" fill="#ff8000"/><rect x="1316.5" y="785.2" width="18.0" height="18.0" fill="#ff8000"/><polygon points="944.5,1134.8 956.2,1155.2 932.8,1155.2" fill="#008000"/><polygon points="948.0,1133.2 959.8,1153.8 936.2,1153.8" fill="#008000"/><polygon points="952.0,1131.2 963.8,1151.8 940.2,1151.8" fill="#008000"/><polygon points="957.0,1128.8 968.8,1149.2 945.2,1149.2" fill="#008000"/><polygon points="962.0,1125.8 973.8,1146.2 950.2,1146.2" fill="#008000"/><polygon points="967.0,1122.8 978.8,1143.2 955.2,1143.2" fill="#008000"/><polygon points="972.0,1119.2 983.8,1139.8 960.2,1139.8" fill="#008000"/><polygon points="977.0,1115.2 988.8,1135.8 965.2,1135.8" fill="#008000"/><polygon points="982.0,1111.2 993.8,1131.8 970.2,1131.8" fill="#008000"/><polygon points="987.0,1106.8 998.8,1127.2 975.2,1127.2" fill="#008000"/><polygon points="992.5,1101.8 1004.2,1122.2 980.8,1122.2" fill="#008000"/><polygon points="998.0,1096.8 1009.8,1117.2 986.2,1117.2" fill="#008000"/><polygon points="1004.0,1091.2 1015.8,1111.8 992.2,1111.8" fill="#008000"/><polygon points="1010.5,1085.2 1022.2,1105.8 998.8,1105.8" fill="#008000"/><polygon points="1018.5,1080.8 1030.2,1101.2 1006.8,1101.2" fill="#008000"/><polygon points="1026.0,1073.8 1037.8,1094.2 1014.2,1094.2" fill="#008000"/><polygon points="1034.5,1066.2 1046.2,1086.8 1022.8,1086.8" fill="#008000"/><polygon points="1044.0,1058.2 1055.8,1078.8 1032.2,1078.8" fill="#008000"/><polygon points="1054.5,1049.2 1066.2,1069.8 1042.8,1069.8" fill="#008000"/><polygon points="1066.5,1039.2 1078.2,1059.8 1054.8,1059.8" fill="#008000"/><polygon points="1080.5,1028.2 1092.2,1048.8 1068.8,1048.8" fill="#008000"/><polygon points="1097.5,1019.2 1109.2,1039.8 1085.8,1039.8" fill="#008000"/><polygon points="1114.4,1005.5 1126.2,1026.0 1102.7,1026.0" fill="#008000"/><polygon points="1134.3,988.9 1146.0,1009.4 1122.5,1009.4" fill="#008000"/><polygon points="1157.3,970.5 1169.0,991.0 1145.5,991.0" fill="#008000"/><polygon points="1181.2,950.6 1193.0,971.1 1169.5,971.1" fill="#008000"/><polygon points="1210.2,929.2 1222.0,949.8 1198.5,949.8" fill="#008000"/><polygon points="1240.4,905.5 1252.2,926.0 1228.7,926.0" fill="#008000"/><polygon points="1278.6,879.2 1290.3,899.8 1266.8,899.8" fill="#008000"/><polygon points="953.0,1136.6 965.4,1149.0 953.0,1161.4 940.6,1149.0" fill="#2cc3cb"/><polygon points="957.0,1135.6 969.4,1148.0 957.0,1160.4 944.6,1148.0" fill="#2cc3cb"/><polygon points="962.0,1133.6 974.4,1146.0 962.0,1158.4 949.6,1146.0" fill="#2cc3cb"/><polygon points="967.0,1131.6 979.4,1144.0 967.0,1156.4 954.6,1144.0" fill="#2cc3cb"/><polygon points="972.0,1128.6 984.4,1141.0 972.0,1153.4 959.6,1141.0" fill="#2cc3cb"/><polygon points="977.0,1125.6 989.4,1138.0 977.0,1150.4 964.6,1138.0" fill="#2cc3cb"/><polygon points="982.0,1121.6 994.4,1134.0 982.0,1146.4 969.6,1134.0" fill="#2cc3cb"/><polygon points="987.0,1117.6 999.4,1130.0 987.0,1142.4 974.6,1130.0" fill="#2cc3cb"/><polygon points="992.0,1112.6 1004.4,1125.0 992.0,1137.4 979.6,1125.0" fill="#2cc3cb"/><polygon points="997.0,1107.6 1009.4,1120.0 997.0,1132.4 984.6,1120.0" fill="#2cc3cb"/><polygon points="1002.0,1101.6 1014.4,1114.0 1002.0,1126.4 989.6,1114.0" fill="#2cc3cb"/><polygon points="1008.0,1095.6 1020.4,1108.0 1008.0,1120.4 995.6,1108.0" fill="#2cc3cb"/><polygon points="1014.0,1088.6 1026.4,1101.0 1014.0,1113.4 1001.6,1101.0" fill="#2cc3cb"/><polygon points="1021.0,1080.6 1033.4,1093.0 1021.0,1105.4 1008.6,1093.0" fill="#2cc3cb"/><polygon points="1028.0,1071.6 1040.4,1084.0 1028.0,1096.4 1015.6,1084.0" fill="#2cc3cb"/><polygon points="1036.0,1061.6 1048.4,1074.0 1036.0,1086.4 1023.6,1074.0" fill="#2cc3cb"/><polygon points="1045.0,1050.6 1057.4,1063.0 1045.0,1075.4 1032.6,1063.0" fill="#2cc3cb"/><polygon points="1055.0,1037.6 1067.4,1050.0 1055.0,1062.4 1042.6,1050.0" fill="#2cc3cb"/><polygon points="1066.0,1023.6 1078.4,1036.0 1066.0,1048.4 1053.6,1036.0" fill="#2cc3cb"/><polygon points="1077.9,1008.1 1090.3,1020.5 1077.9,1032.9 1065.5,1020.5" fill="#2cc3cb"/><polygon points="1092.2,987.5 1104.6,999.9 1092.2,1012.3 1079.8,999.9" fill="#2cc3cb"/><polygon points="1108.9,963.6 1121.3,976.0 1108.9,988.4 1096.5,976.0" fill="#2cc3cb"/><polygon points="1129.5,936.6 1141.9,949.0 1129.5,961.4 1117.1,949.0" fill="#2cc3cb"/><polygon points="1153.4,906.4 1165.8,918.8 1153.4,931.2 1141.0,918.8" fill="#2cc3cb"/><polygon points="1183.4,868.6 1195.8,881.0 1183.4,893.4 1171.0,881.0" fill="#2cc3cb"/><polygon points="1218.2,825.6 1230.6,838.0 1218.2,850.4 1205.8,838.0" fill="#2cc3cb"/><polygon points="1257.1,778.6 1269.5,791.0 1257.1,803.4 1244.7,791.0" fill="#2cc3cb"/><polygon points="1305.1,721.0 1317.5,733.4 1305.1,745.8 1292.7,733.4" fill="#2cc3cb"/><polyline points="955.0,1152.0 956.2,1150.7 957.4,1149.4 958.7,1148.1 959.9,1146.7 961.1,1145.4 962.3,1144.1 963.6,1142.8 964.8,1141.5 966.0,1140.2 967.2,1138.9 968.5,1137.5 969.7,1136.2 970.9,1134.9 972.1,1133.6 973.3,1132.3 974.6,1131.0 975.8,1129.6 977.0,1128.3 978.2,1127.0 979.4,1125.7 980.7,1124.4 981.9,1123.1 983.1,1121.7 984.3,1120.4 985.5,1119.1 986.8,1117.8 988.0,1116.5 989.2,1115.1 990.4,1113.8 991.6,1112.5 992.8,1111.2 994.1,1109.9 995.3,1108.5 996.5,1107.2 997.7,1105.9 998.9,1104.6 1000.1,1103.3 1001.4,1101.9 1002.6,1100.6 1003.8,1099.3 1005.0,1098.0 1006.2,1096.6 1007.4,1095.3 1008.7,1094.0 1009.9,1092.7 1011.1,1091.4 1012.3,1090.0 1013.5,1088.7 1014.7,1087.4 1015.9,1086.1 1017.1,1084.7 1018.4,1083.4 1019.6,1082.1 1020.8,1080.8 1022.0,1079.4 1023.2,1078.1 1024.4,1076.8 1025.6,1075.5 1026.8,1074.1 1028.0,1072.8 1029.3,1071.5 1030.5,1070.2 1031.7,1068.8 1032.9,1067.5 1034.1,1066.2 1035.3,1064.8 1036.5,1063.5 1037.7,1062.2 1038.9,1060.9 1040.1,1059.5 1041.3,1058.2 1042.6,1056.9 1043.8,1055.5 1045.0,1054.2 1046.2,1052.9 1047.4,1051.5 1048.6,1050.2 1049.8,1048.9 1051.0,1047.6 1052.2,1046.2 1053.4,1044.9 1054.6,1043.6 1055.8,1042.2 1057.0,1040.9 1058.2,1039.6 1059.4,1038.2 1060.6,1036.9 1061.8,1035.6 1063.0,1034.2 1064.2,1032.9 1065.4,1031.6 1066.6,1030.2 1067.8,1028.9 1069.0,1027.5 1070.2,1026.2 1071.4,1024.9 1072.6,1023.5 1073.8,1022.2 1075.0,1020.9 1076.2,1019.5 1077.4,1018.2 1078.6,1016.9 1079.8,1015.5 1081.0,1014.2 1082.2,1012.8 1083.4,1011.5 1084.6,1010.2 1085.8,1008.8 1087.0,1007.5 1088.2,1006.1 1089.4,1004.8 1090.6,1003.5 1091.8,1002.1 1093.0,1000.8 1094.2,999.4 1095.4,998.1 1096.6,996.8 1097.8,995.4 1099.0,994.1 1100.2,992.7 1101.3,991.4 1102.5,990.0 1103.7,988.7 1104.9,987.4 1106.1,986.0 1107.3,984.7 1108.5,983.3 1109.7,982.0 1110.9,980.6 1112.1,979.3 1113.3,977.9 1114.4,976.6 1115.6,975.3 1116.8,973.9 1118.0,972.6 1119.2,971.2 1120.4,969.9 1121.6,968.5 1122.8,967.2 1123.9,965.8 1125.1,964.5 1126.3,963.1 1127.5,961.8 1128.7,960.4 1129.9,959.1 1131.0,957.7 1132.2,956.4 1133.4,955.0 1134.6,953.7 1135.8,952.3 1137.0,951.0 1138.1,949.6 1139.3,948.3 1140.5,946.9 1141.7,945.6 1142.9,944.2 1144.0,942.8 1145.2,941.5 1146.4,940.1 1147.6,938.8 1148.8,937.4 1149.9,936.1 1151.1,934.7 1152.3,933.4 1153.5,932.0 1154.6,930.6 1155.8,929.3 1157.0,927.9 1158.2,926.6 1159.3,925.2 1160.5,923.9 1161.7,922.5 1162.9,921.1 1164.0,919.8 1165.2,918.4 1166.4,917.1 1167.6,915.7 1168.7,914.3 1169.9,913.0 1171.1,911.6 1172.2,910.3 1173.4,908.9 1174.6,907.5 1175.8,906.2 1176.9,904.8 1178.1,903.4 1179.3,902.1 1180.4,900.7 1181.6,899.4 1182.8,898.0 1183.9,896.6 1185.1,895.3 1186.3,893.9 1187.4,892.5 1188.6,891.2 1189.8,889.8 1190.9,888.4 1192.1,887.1 1193.3,885.7 1194.4,884.3 1195.6,883.0 1196.7,881.6 1197.9,880.2 1199.1,878.8 1200.2,877.5 1201.4,876.1 1202.5,874.7 1203.7,873.4 1204.9,872.0 1206.0,870.6 1207.2,869.3 1208.3,867.9 1209.5,866.5 1210.7,865.1 1211.8,863.8 1213.0,862.4 1214.1,861.0 1215.3,859.6 1216.4,858.3 1217.6,856.9 1218.7,855.5 1219.9,854.1 1221.1,852.8 1222.2,851.4 1223.4,850.0 1224.5,848.6 1225.7,847.3 1226.8,845.9 1228.0,844.5 1229.1,843.1 1230.3,841.7 1231.4,840.4 1232.6,839.0 1233.7,837.6 1234.9,836.2 1236.0,834.8 1237.1,833.5 1238.3,832.1 1239.4,830.7 1240.6,829.3 1241.7,827.9 1242.9,826.5 1244.0,825.2 1245.2,823.8 1246.3,822.4 1247.5,821.0 1248.6,819.6 1249.7,818.2 1250.9,816.8 1252.0,815.5 1253.2,814.1 1254.3,812.7 1255.4,811.3 1256.6,809.9 1257.7,808.5 1258.9,807.1 1260.0,805.7 1261.1,804.4 1262.3,803.0 1263.4,801.6 1264.5,800.2 1265.7,798.8 1266.8,797.4 1267.9,796.0 1269.1,794.6 1270.2,793.2 1271.3,791.8 1272.5,790.4 1273.6,789.1 1274.7,787.7 1275.9,786.3 1277.0,784.9 1278.1,783.5 1279.3,782.1 1280.4,780.7 1281.5,779.3 1282.6,777.9 1283.8,776.5 1284.9,775.1 1286.0,773.7 1287.2,772.3 1288.3,770.9 1289.4,769.5 1290.5,768.1 1291.7,766.7 1292.8,765.3 1293.9,763.9 1295.0,762.5 1296.1,761.1 1297.3,759.7 1298.4,758.3 1299.5,756.9 1300.6,755.5 1301.7,754.1 1302.9,752.7 1304.0,751.3 1305.1,749.9 1306.2,748.5 1307.3,747.1" fill="none" stroke="#2cc3cb" stroke-width="5.3" stroke-linejoin="round" stroke-linecap="round" /><polygon points="983.5,1134.5 986.5,1141.8 994.4,1142.4 988.4,1147.6 990.3,1155.3 983.5,1151.2 976.7,1155.3 978.6,1147.6 972.6,1142.4 980.5,1141.8" fill="#000"/><polygon points="980.5,1138.0 983.5,1145.3 991.4,1145.9 985.4,1151.1 987.3,1158.8 980.5,1154.7 973.7,1158.8 975.6,1151.1 969.6,1145.9 977.5,1145.3" fill="#000"/><polygon points="976.5,1140.0 979.5,1147.3 987.4,1147.9 981.4,1153.1 983.3,1160.8 976.5,1156.7 969.7,1160.8 971.6,1153.1 965.6,1147.9 973.5,1147.3" fill="#000"/><polygon points="972.0,1140.0 975.0,1147.3 982.9,1147.9 976.9,1153.1 978.8,1160.8 972.0,1156.7 965.2,1160.8 967.1,1153.1 961.1,1147.9 969.0,1147.3" fill="#000"/><polygon points="968.0,1138.5 971.0,1145.8 978.9,1146.4 972.9,1151.6 974.8,1159.3 968.0,1155.2 961.2,1159.3 963.1,1151.6 957.1,1146.4 965.0,1145.8" fill="#000"/><polygon points="965.0,1135.5 968.0,1142.8 975.9,1143.4 969.9,1148.6 971.8,1156.3 965.0,1152.2 958.2,1156.3 960.1,1148.6 954.1,1143.4 962.0,1142.8" fill="#000"/><polygon points="971.0,1136.5 974.0,1143.8 981.9,1144.4 975.9,1149.6 977.8,1157.3 971.0,1153.2 964.2,1157.3 966.1,1149.6 960.1,1144.4 968.0,1143.8" fill="#000"/><polygon points="971.5,1133.5 974.5,1140.8 982.4,1141.4 976.4,1146.6 978.3,1154.3 971.5,1150.2 964.7,1154.3 966.6,1146.6 960.6,1141.4 968.5,1140.8" fill="#000"/><polygon points="972.5,1130.5 975.5,1137.8 983.4,1138.4 977.4,1143.6 979.3,1151.3 972.5,1147.2 965.7,1151.3 967.6,1143.6 961.6,1138.4 969.5,1137.8" fill="#000"/><polygon points="974.0,1126.5 977.0,1133.8 984.9,1134.4 978.9,1139.6 980.8,1147.3 974.0,1143.2 967.2,1147.3 969.1,1139.6 963.1,1134.4 971.0,1133.8" fill="#000"/><polygon points="976.0,1122.5 979.0,1129.8 986.9,1130.4 980.9,1135.6 982.8,1143.3 976.0,1139.2 969.2,1143.3 971.1,1135.6 965.1,1130.4 973.0,1129.8" fill="#000"/><polygon points="978.5,1117.5 981.5,1124.8 989.4,1125.4 983.4,1130.6 985.3,1138.3 978.5,1134.2 971.7,1138.3 973.6,1130.6 967.6,1125.4 975.5,1124.8" fill="#000"/><polygon points="981.5,1112.5 984.5,1119.8 992.4,1120.4 986.4,1125.6 988.3,1133.3 981.5,1129.2 974.7,1133.3 976.6,1125.6 970.6,1120.4 978.5,1119.8" fill="#000"/><polygon points="985.0,1106.5 988.0,1113.8 995.9,1114.4 989.9,1119.6 991.8,1127.3 985.0,1123.2 978.2,1127.3 980.1,1119.6 974.1,1114.4 982.0,1113.8" fill="#000"/><polygon points="989.0,1100.5 992.0,1107.8 999.9,1108.4 993.9,1113.6 995.8,1121.3 989.0,1117.2 982.2,1121.3 984.1,1113.6 978.1,1108.4 986.0,1107.8" fill="#000"/><polygon points="993.5,1093.5 996.5,1100.8 1004.4,1101.4 998.4,1106.6 1000.3,1114.3 993.5,1110.2 986.7,1114.3 988.6,1106.6 982.6,1101.4 990.5,1100.8" fill="#000"/><polygon points="998.5,1085.5 1001.5,1092.8 1009.4,1093.4 1003.4,1098.6 1005.3,1106.3 998.5,1102.2 991.7,1106.3 993.6,1098.6 987.6,1093.4 995.5,1092.8" fill="#000"/><polygon points="1004.0,1076.5 1007.0,1083.8 1014.9,1084.4 1008.9,1089.6 1010.8,1097.3 1004.0,1093.2 997.2,1097.3 999.1,1089.6 993.1,1084.4 1001.0,1083.8" fill="#000"/><polygon points="1010.5,1066.5 1013.5,1073.8 1021.4,1074.4 1015.4,1079.6 1017.3,1087.3 1010.5,1083.2 1003.7,1087.3 1005.6,1079.6 999.6,1074.4 1007.5,1073.8" fill="#000"/><polygon points="1017.9,1055.5 1020.9,1062.8 1028.8,1063.4 1022.8,1068.6 1024.7,1076.3 1017.9,1072.2 1011.1,1076.3 1013.0,1068.6 1007.0,1063.4 1014.9,1062.8" fill="#000"/><polygon points="1026.2,1043.2 1029.2,1050.5 1037.1,1051.1 1031.1,1056.3 1033.0,1064.0 1026.2,1059.9 1019.4,1064.0 1021.3,1056.3 1015.3,1051.1 1023.2,1050.5" fill="#000"/><polygon points="1036.6,1028.9 1039.6,1036.2 1047.5,1036.8 1041.5,1042.0 1043.4,1049.7 1036.6,1045.6 1029.8,1049.7 1031.7,1042.0 1025.7,1036.8 1033.6,1036.2" fill="#000"/><polygon points="1050.1,1013.0 1053.1,1020.3 1061.0,1020.9 1055.0,1026.1 1056.9,1033.8 1050.1,1029.7 1043.3,1033.8 1045.2,1026.1 1039.2,1020.9 1047.1,1020.3" fill="#000"/><polygon points="1066.0,990.7 1069.0,998.0 1076.9,998.6 1070.9,1003.8 1072.8,1011.5 1066.0,1007.4 1059.2,1011.5 1061.1,1003.8 1055.1,998.6 1063.0,998.0" fill="#000"/><polygon points="1082.6,966.9 1085.6,974.2 1093.5,974.8 1087.5,980.0 1089.4,987.7 1082.6,983.6 1075.8,987.7 1077.7,980.0 1071.7,974.8 1079.6,974.2" fill="#000"/><polygon points="1104.1,938.3 1107.1,945.6 1115.0,946.2 1109.0,951.4 1110.9,959.1 1104.1,955.0 1097.3,959.1 1099.2,951.4 1093.2,946.2 1101.1,945.6" fill="#000"/><polygon points="1128.7,904.9 1131.7,912.2 1139.6,912.8 1133.6,918.0 1135.5,925.7 1128.7,921.6 1121.9,925.7 1123.8,918.0 1117.8,912.8 1125.7,912.2" fill="#000"/><polygon points="1155.5,870.8 1158.5,878.1 1166.4,878.7 1160.4,883.9 1162.3,891.6 1155.5,887.5 1148.7,891.6 1150.6,883.9 1144.6,878.7 1152.5,878.1" fill="#000"/><polygon points="1191.2,824.5 1194.2,831.8 1202.1,832.4 1196.1,837.6 1198.0,845.3 1191.2,841.2 1184.4,845.3 1186.3,837.6 1180.3,832.4 1188.2,831.8" fill="#000"/><polygon points="1229.5,775.5 1232.5,782.8 1240.4,783.4 1234.4,788.6 1236.3,796.3 1229.5,792.2 1222.7,796.3 1224.6,788.6 1218.6,783.4 1226.5,782.8" fill="#000"/><polygon points="1276.5,718.1 1279.5,725.4 1287.4,726.0 1281.4,731.2 1283.3,738.9 1276.5,734.8 1269.7,738.9 1271.6,731.2 1265.6,726.0 1273.5,725.4" fill="#000"/><polyline points="966.2,1150.2 967.4,1148.6 968.6,1147.0 969.8,1145.4 971.0,1143.8 972.2,1142.2 973.4,1140.6 974.6,1139.0 975.8,1137.4 977.0,1135.8 978.2,1134.2 979.4,1132.6 980.6,1131.0 981.8,1129.4 983.0,1127.8 984.2,1126.2 985.4,1124.6 986.6,1123.0 987.8,1121.4 989.0,1119.8 990.2,1118.2 991.4,1116.7 992.6,1115.1 993.8,1113.5 995.0,1111.9 996.2,1110.3 997.5,1108.7 998.7,1107.1 999.9,1105.5 1001.1,1103.9 1002.3,1102.3 1003.5,1100.7 1004.7,1099.1 1005.9,1097.5 1007.1,1095.9 1008.3,1094.3 1009.5,1092.7 1010.7,1091.1 1011.9,1089.5 1013.1,1087.9 1014.3,1086.3 1015.5,1084.8 1016.7,1083.2 1017.9,1081.6 1019.1,1080.0 1020.3,1078.4 1021.5,1076.8 1022.7,1075.2 1023.9,1073.6 1025.1,1072.0 1026.3,1070.4 1027.5,1068.8 1028.7,1067.2 1029.9,1065.6 1031.1,1064.0 1032.3,1062.4 1033.6,1060.8 1034.8,1059.3 1036.0,1057.7 1037.2,1056.1 1038.4,1054.5 1039.6,1052.9 1040.8,1051.3 1042.0,1049.7 1043.2,1048.1 1044.4,1046.5 1045.6,1044.9 1046.8,1043.3 1048.0,1041.7 1049.2,1040.1 1050.4,1038.6 1051.6,1037.0 1052.8,1035.4 1054.0,1033.8 1055.3,1032.2 1056.5,1030.6 1057.7,1029.0 1058.9,1027.4 1060.1,1025.8 1061.3,1024.2 1062.5,1022.6 1063.7,1021.1 1064.9,1019.5 1066.1,1017.9 1067.3,1016.3 1068.5,1014.7 1069.7,1013.1 1071.0,1011.5 1072.2,1009.9 1073.4,1008.3 1074.6,1006.7 1075.8,1005.2 1077.0,1003.6 1078.2,1002.0 1079.4,1000.4 1080.6,998.8 1081.8,997.2 1083.1,995.6 1084.3,994.0 1085.5,992.4 1086.7,990.9 1087.9,989.3 1089.1,987.7 1090.3,986.1 1091.5,984.5 1092.7,982.9 1094.0,981.3 1095.2,979.7 1096.4,978.2 1097.6,976.6 1098.8,975.0 1100.0,973.4 1101.2,971.8 1102.4,970.2 1103.7,968.6 1104.9,967.1 1106.1,965.5 1107.3,963.9 1108.5,962.3 1109.7,960.7 1110.9,959.1 1112.1,957.5 1113.4,956.0 1114.6,954.4 1115.8,952.8 1117.0,951.2 1118.2,949.6 1119.4,948.0 1120.7,946.4 1121.9,944.9 1123.1,943.3 1124.3,941.7 1125.5,940.1 1126.7,938.5 1128.0,936.9 1129.2,935.4 1130.4,933.8 1131.6,932.2 1132.8,930.6 1134.0,929.0 1135.3,927.5 1136.5,925.9 1137.7,924.3 1138.9,922.7 1140.1,921.1 1141.4,919.5 1142.6,918.0 1143.8,916.4 1145.0,914.8 1146.2,913.2 1147.5,911.6 1148.7,910.1 1149.9,908.5 1151.1,906.9 1152.3,905.3 1153.6,903.7 1154.8,902.2 1156.0,900.6 1157.2,899.0 1158.4,897.4 1159.7,895.8 1160.9,894.3 1162.1,892.7 1163.3,891.1 1164.6,889.5 1165.8,888.0 1167.0,886.4 1168.2,884.8 1169.5,883.2 1170.7,881.7 1171.9,880.1 1173.1,878.5 1174.4,876.9 1175.6,875.3 1176.8,873.8 1178.0,872.2 1179.3,870.6 1180.5,869.0 1181.7,867.5 1183.0,865.9 1184.2,864.3 1185.4,862.7 1186.6,861.2 1187.9,859.6 1189.1,858.0 1190.3,856.4 1191.6,854.9 1192.8,853.3 1194.0,851.7 1195.2,850.2 1196.5,848.6 1197.7,847.0 1198.9,845.4 1200.2,843.9 1201.4,842.3 1202.6,840.7 1203.9,839.2 1205.1,837.6 1206.3,836.0 1207.6,834.4 1208.8,832.9 1210.0,831.3 1211.3,829.7 1212.5,828.2 1213.7,826.6 1215.0,825.0 1216.2,823.5 1217.4,821.9 1218.7,820.3 1219.9,818.7 1221.1,817.2 1222.4,815.6 1223.6,814.0 1224.8,812.5 1226.1,810.9 1227.3,809.3 1228.6,807.8 1229.8,806.2 1231.0,804.6 1232.3,803.1 1233.5,801.5 1234.8,799.9 1236.0,798.4 1237.2,796.8 1238.5,795.2 1239.7,793.7 1241.0,792.1 1242.2,790.5 1243.4,789.0 1244.7,787.4 1245.9,785.9 1247.2,784.3 1248.4,782.7 1249.6,781.2 1250.9,779.6 1252.1,778.0 1253.4,776.5 1254.6,774.9 1255.9,773.3 1257.1,771.8 1258.3,770.2 1259.6,768.7 1260.8,767.1 1262.1,765.5 1263.3,764.0 1264.6,762.4 1265.8,760.9 1267.1,759.3 1268.3,757.7 1269.5,756.2 1270.8,754.6 1272.0,753.1 1273.3,751.5 1274.5,749.9 1275.8,748.4 1277.0,746.8 1278.3,745.3 1279.5,743.7 1280.8,742.1 1282.0,740.6 1283.3,739.0 1284.5,737.5 1285.8,735.9 1287.0,734.3 1288.3,732.8 1289.5,731.2 1290.8,729.7 1292.0,728.1 1293.3,726.6 1294.5,725.0 1295.8,723.4 1297.0,721.9 1298.3,720.3 1299.5,718.8 1300.8,717.2 1302.0,715.7 1303.3,714.1 1304.5,712.6 1305.8,711.0 1307.0,709.5 1308.3,707.9 1309.6,706.3 1310.8,704.8 1312.1,703.2 1313.3,701.7 1314.6,700.1 1315.8,698.6 1317.1,697.0 1318.3,695.5 1319.6,693.9 1320.9,692.4 1322.1,690.8 1323.4,689.3 1324.6,687.7 1325.9,686.2 1327.1,684.6 1328.4,683.1 1329.7,681.5 1330.9,679.9 1332.2,678.4" fill="none" stroke="#000" stroke-width="5.0" stroke-linejoin="round" stroke-linecap="round" /><rect x="1294.6" y="954.3" width="186.2" height="178.0" fill="#fff" stroke="#000" stroke-width="1.6"/><line x1="1320.8" y1="1132.3" x2="1320.8" y2="1137.3" stroke="#000" stroke-width="1.6" stroke-linecap="butt"/><line x1="1374.1" y1="1132.3" x2="1374.1" y2="1137.3" stroke="#000" stroke-width="1.6" stroke-linecap="butt"/><line x1="1427.4" y1="1132.3" x2="1427.4" y2="1137.3" stroke="#000" stroke-width="1.6" stroke-linecap="butt"/><line x1="1480.7" y1="1132.3" x2="1480.7" y2="1137.3" stroke="#000" stroke-width="1.6" stroke-linecap="butt"/><line x1="1347.5" y1="1132.3" x2="1347.5" y2="1135.8" stroke="#000" stroke-width="1.6" stroke-linecap="butt"/><line x1="1400.8" y1="1132.3" x2="1400.8" y2="1135.8" stroke="#000" stroke-width="1.6" stroke-linecap="butt"/><line x1="1454.0" y1="1132.3" x2="1454.0" y2="1135.8" stroke="#000" stroke-width="1.6" stroke-linecap="butt"/><line x1="1289.6" y1="1113.1" x2="1294.6" y2="1113.1" stroke="#000" stroke-width="1.6" stroke-linecap="butt"/><line x1="1289.6" y1="1073.4" x2="1294.6" y2="1073.4" stroke="#000" stroke-width="1.6" stroke-linecap="butt"/><line x1="1289.6" y1="1033.7" x2="1294.6" y2="1033.7" stroke="#000" stroke-width="1.6" stroke-linecap="butt"/><line x1="1289.6" y1="994.0" x2="1294.6" y2="994.0" stroke="#000" stroke-width="1.6" stroke-linecap="butt"/><line x1="1289.6" y1="954.3" x2="1294.6" y2="954.3" stroke="#000" stroke-width="1.6" stroke-linecap="butt"/><line x1="1291.1" y1="1093.2" x2="1294.6" y2="1093.2" stroke="#000" stroke-width="1.6" stroke-linecap="butt"/><line x1="1291.1" y1="1053.5" x2="1294.6" y2="1053.5" stroke="#000" stroke-width="1.6" stroke-linecap="butt"/><line x1="1291.1" y1="1013.8" x2="1294.6" y2="1013.8" stroke="#000" stroke-width="1.6" stroke-linecap="butt"/><line x1="1291.1" y1="974.1" x2="1294.6" y2="974.1" stroke="#000" stroke-width="1.6" stroke-linecap="butt"/><text transform="translate(1321.8,1156.3) scale(1.240,1)" font-size="22" text-anchor="middle" font-family="'Liberation Sans', Arial, sans-serif" font-weight="bold" >10</text><text transform="translate(1375.1,1156.3) scale(1.240,1)" font-size="22" text-anchor="middle" font-family="'Liberation Sans', Arial, sans-serif" font-weight="bold" >20</text><text transform="translate(1428.4,1156.3) scale(1.240,1)" font-size="22" text-anchor="middle" font-family="'Liberation Sans', Arial, sans-serif" font-weight="bold" >30</text><text transform="translate(1481.7,1156.3) scale(1.240,1)" font-size="22" text-anchor="middle" font-family="'Liberation Sans', Arial, sans-serif" font-weight="bold" >40</text><text transform="translate(1292.0,1120.7) scale(1.240,1)" font-size="22" text-anchor="end" font-family="'Liberation Sans', Arial, sans-serif" font-weight="bold" >0</text><text transform="translate(1292.0,1081.0) scale(1.240,1)" font-size="22" text-anchor="end" font-family="'Liberation Sans', Arial, sans-serif" font-weight="bold" >10</text><text transform="translate(1292.0,1041.3) scale(1.240,1)" font-size="22" text-anchor="end" font-family="'Liberation Sans', Arial, sans-serif" font-weight="bold" >20</text><text transform="translate(1292.0,1001.6) scale(1.240,1)" font-size="22" text-anchor="end" font-family="'Liberation Sans', Arial, sans-serif" font-weight="bold" >30</text><text transform="translate(1292.0,961.9) scale(1.240,1)" font-size="22" text-anchor="end" font-family="'Liberation Sans', Arial, sans-serif" font-weight="bold" >40</text><g clip-path="url(#insclip)"><rect x="1318.8" y="1104.8" width="10.5" height="10.5" fill="#ff8000"/><rect x="1325.1" y="1101.8" width="10.5" height="10.5" fill="#ff8000"/><rect x="1331.4" y="1098.8" width="10.5" height="10.5" fill="#ff8000"/><rect x="1337.7" y="1095.7" width="10.5" height="10.5" fill="#ff8000"/><rect x="1343.9" y="1092.4" width="10.5" height="10.5" fill="#ff8000"/><rect x="1350.1" y="1089.2" width="10.5" height="10.5" fill="#ff8000"/><rect x="1356.3" y="1085.9" width="10.5" height="10.5" fill="#ff8000"/><rect x="1362.4" y="1082.5" width="10.5" height="10.5" fill="#ff8000"/><rect x="1368.5" y="1079.2" width="10.5" height="10.5" fill="#ff8000"/><rect x="1374.7" y="1075.8" width="10.5" height="10.5" fill="#ff8000"/><rect x="1380.5" y="1071.9" width="10.5" height="10.5" fill="#ff8000"/><rect x="1386.3" y="1068.0" width="10.5" height="10.5" fill="#ff8000"/><rect x="1392.1" y="1064.0" width="10.5" height="10.5" fill="#ff8000"/><rect x="1397.7" y="1059.9" width="10.5" height="10.5" fill="#ff8000"/><rect x="1403.3" y="1055.6" width="10.5" height="10.5" fill="#ff8000"/><rect x="1408.8" y="1051.4" width="10.5" height="10.5" fill="#ff8000"/><rect x="1414.3" y="1047.1" width="10.5" height="10.5" fill="#ff8000"/><rect x="1419.9" y="1042.9" width="10.5" height="10.5" fill="#ff8000"/><rect x="1430.0" y="1035.2" width="10.5" height="10.5" fill="#ff8000"/><rect x="1440.5" y="1026.5" width="10.5" height="10.5" fill="#ff8000"/><rect x="1453.7" y="1017.0" width="10.5" height="10.5" fill="#ff8000"/><rect x="1466.8" y="1007.4" width="10.5" height="10.5" fill="#ff8000"/><rect x="1475.5" y="998.5" width="10.5" height="10.5" fill="#ff8000"/><polygon points="1306.0,1101.8 1313.2,1114.2 1298.8,1114.2" fill="#008000"/><polygon points="1309.5,1099.8 1316.7,1112.3 1302.2,1112.3" fill="#008000"/><polygon points="1312.9,1097.8 1320.2,1110.3 1305.7,1110.3" fill="#008000"/><polygon points="1316.4,1095.8 1323.7,1108.3 1309.2,1108.3" fill="#008000"/><polygon points="1319.9,1093.8 1327.1,1106.3 1312.6,1106.3" fill="#008000"/><polygon points="1323.4,1091.9 1330.6,1104.4 1316.1,1104.4" fill="#008000"/><polygon points="1326.9,1090.0 1334.2,1102.5 1319.7,1102.5" fill="#008000"/><polygon points="1330.4,1088.0 1337.7,1100.5 1323.2,1100.5" fill="#008000"/><polygon points="1333.9,1086.1 1341.2,1098.6 1326.7,1098.6" fill="#008000"/><polygon points="1337.4,1084.2 1344.7,1096.7 1330.2,1096.7" fill="#008000"/><polygon points="1340.9,1082.2 1348.1,1094.7 1333.6,1094.7" fill="#008000"/><polygon points="1344.2,1079.9 1351.5,1092.4 1337.0,1092.4" fill="#008000"/><polygon points="1347.5,1077.7 1354.8,1090.2 1340.3,1090.2" fill="#008000"/><polygon points="1351.0,1075.4 1358.2,1087.9 1343.7,1087.9" fill="#008000"/><polygon points="1354.8,1072.9 1362.0,1085.4 1347.5,1085.4" fill="#008000"/><polygon points="1358.9,1070.1 1366.1,1082.6 1351.6,1082.6" fill="#008000"/><polygon points="1363.2,1066.9 1370.5,1079.4 1356.0,1079.4" fill="#008000"/><polygon points="1368.0,1063.4 1375.2,1075.9 1360.7,1075.9" fill="#008000"/><polygon points="1373.2,1059.6 1380.4,1072.1 1365.9,1072.1" fill="#008000"/><polygon points="1378.8,1055.3 1386.1,1067.8 1371.6,1067.8" fill="#008000"/><polygon points="1385.0,1050.6 1392.2,1063.1 1377.7,1063.1" fill="#008000"/><polygon points="1391.6,1045.4 1398.9,1057.9 1384.4,1057.9" fill="#008000"/><polygon points="1399.1,1039.9 1406.3,1052.4 1391.8,1052.4" fill="#008000"/><polygon points="1407.4,1034.2 1414.6,1046.7 1400.1,1046.7" fill="#008000"/><polygon points="1430.1,1016.0 1437.3,1028.5 1422.8,1028.5" fill="#008000"/><polygon points="1444.1,1002.0 1451.3,1014.5 1436.8,1014.5" fill="#008000"/><polygon points="1459.9,989.8 1467.2,1002.2 1452.7,1002.2" fill="#008000"/><polygon points="1475.4,975.9 1482.7,988.4 1468.2,988.4" fill="#008000"/><polygon points="1490.0,963.8 1497.2,976.2 1482.8,976.2" fill="#008000"/><polygon points="1318.0,1103.4 1324.6,1110.0 1318.0,1116.6 1311.4,1110.0" fill="#2cc3cb"/><polygon points="1320.3,1102.3 1326.9,1108.9 1320.3,1115.5 1313.7,1108.9" fill="#2cc3cb"/><polygon points="1322.5,1101.3 1329.1,1107.9 1322.5,1114.5 1315.9,1107.9" fill="#2cc3cb"/><polygon points="1324.8,1100.2 1331.4,1106.8 1324.8,1113.4 1318.2,1106.8" fill="#2cc3cb"/><polygon points="1327.0,1099.1 1333.6,1105.7 1327.0,1112.3 1320.4,1105.7" fill="#2cc3cb"/><polygon points="1329.3,1098.1 1335.9,1104.7 1329.3,1111.3 1322.7,1104.7" fill="#2cc3cb"/><polygon points="1331.6,1097.0 1338.2,1103.6 1331.6,1110.2 1325.0,1103.6" fill="#2cc3cb"/><polygon points="1333.8,1095.9 1340.4,1102.5 1333.8,1109.1 1327.2,1102.5" fill="#2cc3cb"/><polygon points="1336.1,1094.8 1342.7,1101.4 1336.1,1108.0 1329.5,1101.4" fill="#2cc3cb"/><polygon points="1338.3,1093.6 1344.9,1100.2 1338.3,1106.8 1331.7,1100.2" fill="#2cc3cb"/><polygon points="1340.4,1092.4 1347.0,1099.0 1340.4,1105.6 1333.8,1099.0" fill="#2cc3cb"/><polygon points="1342.6,1091.2 1349.2,1097.8 1342.6,1104.4 1336.0,1097.8" fill="#2cc3cb"/><polygon points="1344.8,1090.0 1351.4,1096.6 1344.8,1103.2 1338.2,1096.6" fill="#2cc3cb"/><polygon points="1347.0,1088.8 1353.6,1095.4 1347.0,1102.0 1340.4,1095.4" fill="#2cc3cb"/><polygon points="1349.2,1087.6 1355.8,1094.2 1349.2,1100.8 1342.6,1094.2" fill="#2cc3cb"/><polygon points="1351.4,1086.4 1358.0,1093.0 1351.4,1099.6 1344.8,1093.0" fill="#2cc3cb"/><polygon points="1353.6,1085.2 1360.2,1091.8 1353.6,1098.4 1347.0,1091.8" fill="#2cc3cb"/><polygon points="1355.7,1083.9 1362.3,1090.5 1355.7,1097.1 1349.1,1090.5" fill="#2cc3cb"/><polygon points="1357.8,1082.6 1364.4,1089.2 1357.8,1095.8 1351.2,1089.2" fill="#2cc3cb"/><polygon points="1359.9,1081.2 1366.5,1087.8 1359.9,1094.4 1353.3,1087.8" fill="#2cc3cb"/><polygon points="1362.0,1079.8 1368.6,1086.4 1362.0,1093.0 1355.4,1086.4" fill="#2cc3cb"/><polygon points="1364.1,1078.5 1370.7,1085.1 1364.1,1091.7 1357.5,1085.1" fill="#2cc3cb"/><polygon points="1366.2,1077.1 1372.8,1083.7 1366.2,1090.3 1359.6,1083.7" fill="#2cc3cb"/><polygon points="1368.3,1075.7 1374.9,1082.3 1368.3,1088.9 1361.7,1082.3" fill="#2cc3cb"/><polygon points="1370.4,1074.4 1377.0,1081.0 1370.4,1087.6 1363.8,1081.0" fill="#2cc3cb"/><polygon points="1372.5,1073.0 1379.1,1079.6 1372.5,1086.2 1365.9,1079.6" fill="#2cc3cb"/><polygon points="1374.6,1071.7 1381.2,1078.3 1374.6,1084.9 1368.0,1078.3" fill="#2cc3cb"/><polygon points="1376.6,1070.1 1383.2,1076.7 1376.6,1083.3 1370.0,1076.7" fill="#2cc3cb"/><polygon points="1378.5,1068.6 1385.1,1075.2 1378.5,1081.8 1371.9,1075.2" fill="#2cc3cb"/><polygon points="1380.5,1067.0 1387.1,1073.6 1380.5,1080.2 1373.9,1073.6" fill="#2cc3cb"/><polygon points="1382.4,1065.4 1389.0,1072.0 1382.4,1078.6 1375.8,1072.0" fill="#2cc3cb"/><polygon points="1384.4,1063.9 1391.0,1070.5 1384.4,1077.1 1377.8,1070.5" fill="#2cc3cb"/><polygon points="1386.3,1062.3 1392.9,1068.9 1386.3,1075.5 1379.7,1068.9" fill="#2cc3cb"/><polygon points="1388.3,1060.8 1394.9,1067.4 1388.3,1074.0 1381.7,1067.4" fill="#2cc3cb"/><polygon points="1390.3,1059.2 1396.9,1065.8 1390.3,1072.4 1383.7,1065.8" fill="#2cc3cb"/><polygon points="1392.2,1057.6 1398.8,1064.2 1392.2,1070.8 1385.6,1064.2" fill="#2cc3cb"/><polygon points="1394.2,1056.1 1400.8,1062.7 1394.2,1069.3 1387.6,1062.7" fill="#2cc3cb"/><polygon points="1396.0,1054.4 1402.6,1061.0 1396.0,1067.6 1389.4,1061.0" fill="#2cc3cb"/><polygon points="1397.8,1052.7 1404.4,1059.3 1397.8,1065.9 1391.2,1059.3" fill="#2cc3cb"/><polygon points="1399.7,1051.0 1406.3,1057.6 1399.7,1064.2 1393.1,1057.6" fill="#2cc3cb"/><polygon points="1401.5,1049.3 1408.1,1055.9 1401.5,1062.5 1394.9,1055.9" fill="#2cc3cb"/><polygon points="1403.3,1047.5 1409.9,1054.1 1403.3,1060.7 1396.7,1054.1" fill="#2cc3cb"/><polygon points="1405.1,1045.8 1411.7,1052.4 1405.1,1059.0 1398.5,1052.4" fill="#2cc3cb"/><polygon points="1406.9,1044.1 1413.5,1050.7 1406.9,1057.3 1400.3,1050.7" fill="#2cc3cb"/><polygon points="1408.7,1042.4 1415.3,1049.0 1408.7,1055.6 1402.1,1049.0" fill="#2cc3cb"/><polygon points="1410.5,1040.7 1417.1,1047.3 1410.5,1053.9 1403.9,1047.3" fill="#2cc3cb"/><polygon points="1412.4,1038.9 1419.0,1045.5 1412.4,1052.1 1405.8,1045.5" fill="#2cc3cb"/><polygon points="1414.2,1037.2 1420.8,1043.8 1414.2,1050.4 1407.6,1043.8" fill="#2cc3cb"/><polygon points="1415.9,1035.4 1422.5,1042.0 1415.9,1048.6 1409.3,1042.0" fill="#2cc3cb"/><polygon points="1417.6,1033.6 1424.2,1040.2 1417.6,1046.8 1411.0,1040.2" fill="#2cc3cb"/><polygon points="1419.3,1031.8 1425.9,1038.4 1419.3,1045.0 1412.7,1038.4" fill="#2cc3cb"/><polygon points="1421.1,1030.0 1427.7,1036.6 1421.1,1043.2 1414.5,1036.6" fill="#2cc3cb"/><polygon points="1422.8,1028.2 1429.4,1034.8 1422.8,1041.4 1416.2,1034.8" fill="#2cc3cb"/><polygon points="1435.3,1015.6 1441.9,1022.2 1435.3,1028.8 1428.7,1022.2" fill="#2cc3cb"/><polygon points="1445.8,1008.6 1452.4,1015.2 1445.8,1021.8 1439.2,1015.2" fill="#2cc3cb"/><polygon points="1458.0,999.8 1464.6,1006.4 1458.0,1013.0 1451.4,1006.4" fill="#2cc3cb"/><polygon points="1473.8,985.8 1480.4,992.4 1473.8,999.0 1467.2,992.4" fill="#2cc3cb"/><polygon points="1489.0,972.4 1495.6,979.0 1489.0,985.6 1482.4,979.0" fill="#2cc3cb"/><polygon points="1349.0,1101.0 1350.9,1105.5 1355.7,1105.8 1352.0,1109.0 1353.1,1113.7 1349.0,1111.2 1344.9,1113.7 1346.0,1109.0 1342.3,1105.8 1347.1,1105.5" fill="#000"/><polygon points="1352.0,1103.0 1353.9,1107.5 1358.7,1107.8 1355.0,1111.0 1356.1,1115.7 1352.0,1113.2 1347.9,1115.7 1349.0,1111.0 1345.3,1107.8 1350.1,1107.5" fill="#000"/><polygon points="1355.0,1100.0 1356.9,1104.5 1361.7,1104.8 1358.0,1108.0 1359.1,1112.7 1355.0,1110.2 1350.9,1112.7 1352.0,1108.0 1348.3,1104.8 1353.1,1104.5" fill="#000"/><polygon points="1358.0,1102.0 1359.9,1106.5 1364.7,1106.8 1361.0,1110.0 1362.1,1114.7 1358.0,1112.2 1353.9,1114.7 1355.0,1110.0 1351.3,1106.8 1356.1,1106.5" fill="#000"/><polygon points="1361.0,1099.0 1362.9,1103.5 1367.7,1103.8 1364.0,1107.0 1365.1,1111.7 1361.0,1109.2 1356.9,1111.7 1358.0,1107.0 1354.3,1103.8 1359.1,1103.5" fill="#000"/><polygon points="1364.0,1100.0 1365.9,1104.5 1370.7,1104.8 1367.0,1108.0 1368.1,1112.7 1364.0,1110.2 1359.9,1112.7 1361.0,1108.0 1357.3,1104.8 1362.1,1104.5" fill="#000"/><polygon points="1367.0,1097.0 1368.9,1101.5 1373.7,1101.8 1370.0,1105.0 1371.1,1109.7 1367.0,1107.2 1362.9,1109.7 1364.0,1105.0 1360.3,1101.8 1365.1,1101.5" fill="#000"/><polygon points="1370.0,1095.0 1371.9,1099.5 1376.7,1099.8 1373.0,1103.0 1374.1,1107.7 1370.0,1105.2 1365.9,1107.7 1367.0,1103.0 1363.3,1099.8 1368.1,1099.5" fill="#000"/><polygon points="1373.0,1092.0 1374.9,1096.5 1379.7,1096.8 1376.0,1100.0 1377.1,1104.7 1373.0,1102.2 1368.9,1104.7 1370.0,1100.0 1366.3,1096.8 1371.1,1096.5" fill="#000"/><polygon points="1376.0,1089.0 1377.9,1093.5 1382.7,1093.8 1379.0,1097.0 1380.1,1101.7 1376.0,1099.2 1371.9,1101.7 1373.0,1097.0 1369.3,1093.8 1374.1,1093.5" fill="#000"/><polygon points="1379.0,1086.0 1380.9,1090.5 1385.7,1090.8 1382.0,1094.0 1383.1,1098.7 1379.0,1096.2 1374.9,1098.7 1376.0,1094.0 1372.3,1090.8 1377.1,1090.5" fill="#000"/><polygon points="1382.0,1083.0 1383.9,1087.5 1388.7,1087.8 1385.0,1091.0 1386.1,1095.7 1382.0,1093.2 1377.9,1095.7 1379.0,1091.0 1375.3,1087.8 1380.1,1087.5" fill="#000"/><polygon points="1385.0,1079.0 1386.9,1083.5 1391.7,1083.8 1388.0,1087.0 1389.1,1091.7 1385.0,1089.2 1380.9,1091.7 1382.0,1087.0 1378.3,1083.8 1383.1,1083.5" fill="#000"/><polygon points="1388.0,1076.0 1389.9,1080.5 1394.7,1080.8 1391.0,1084.0 1392.1,1088.7 1388.0,1086.2 1383.9,1088.7 1385.0,1084.0 1381.3,1080.8 1386.1,1080.5" fill="#000"/><polygon points="1391.0,1072.0 1392.9,1076.5 1397.7,1076.8 1394.0,1080.0 1395.1,1084.7 1391.0,1082.2 1386.9,1084.7 1388.0,1080.0 1384.3,1076.8 1389.1,1076.5" fill="#000"/><polygon points="1394.0,1069.0 1395.9,1073.5 1400.7,1073.8 1397.0,1077.0 1398.1,1081.7 1394.0,1079.2 1389.9,1081.7 1391.0,1077.0 1387.3,1073.8 1392.1,1073.5" fill="#000"/><polygon points="1397.0,1065.0 1398.9,1069.5 1403.7,1069.8 1400.0,1073.0 1401.1,1077.7 1397.0,1075.2 1392.9,1077.7 1394.0,1073.0 1390.3,1069.8 1395.1,1069.5" fill="#000"/><polygon points="1400.0,1061.5 1401.9,1066.0 1406.7,1066.3 1403.0,1069.5 1404.1,1074.2 1400.0,1071.7 1395.9,1074.2 1397.0,1069.5 1393.3,1066.3 1398.1,1066.0" fill="#000"/><polygon points="1403.0,1058.0 1404.9,1062.5 1409.7,1062.8 1406.0,1066.0 1407.1,1070.7 1403.0,1068.2 1398.9,1070.7 1400.0,1066.0 1396.3,1062.8 1401.1,1062.5" fill="#000"/><polygon points="1406.0,1054.0 1407.9,1058.5 1412.7,1058.8 1409.0,1062.0 1410.1,1066.7 1406.0,1064.2 1401.9,1066.7 1403.0,1062.0 1399.3,1058.8 1404.1,1058.5" fill="#000"/><polygon points="1409.5,1050.0 1411.4,1054.5 1416.2,1054.8 1412.5,1058.0 1413.6,1062.7 1409.5,1060.2 1405.4,1062.7 1406.5,1058.0 1402.8,1054.8 1407.6,1054.5" fill="#000"/><polygon points="1413.0,1045.5 1414.9,1050.0 1419.7,1050.3 1416.0,1053.5 1417.1,1058.2 1413.0,1055.7 1408.9,1058.2 1410.0,1053.5 1406.3,1050.3 1411.1,1050.0" fill="#000"/><polygon points="1417.0,1041.0 1418.9,1045.5 1423.7,1045.8 1420.0,1049.0 1421.1,1053.7 1417.0,1051.2 1412.9,1053.7 1414.0,1049.0 1410.3,1045.8 1415.1,1045.5" fill="#000"/><polygon points="1424.8,1033.0 1426.7,1037.5 1431.5,1037.8 1427.8,1041.0 1428.9,1045.7 1424.8,1043.2 1420.7,1045.7 1421.8,1041.0 1418.1,1037.8 1422.9,1037.5" fill="#000"/><polygon points="1431.0,1024.0 1432.9,1028.5 1437.7,1028.8 1434.0,1032.0 1435.1,1036.7 1431.0,1034.2 1426.9,1036.7 1428.0,1032.0 1424.3,1028.8 1429.1,1028.5" fill="#000"/><polygon points="1439.7,1012.5 1441.6,1017.0 1446.4,1017.3 1442.7,1020.5 1443.8,1025.2 1439.7,1022.6 1435.6,1025.2 1436.7,1020.5 1433.0,1017.3 1437.8,1017.0" fill="#000"/><polygon points="1450.2,995.9 1452.1,1000.4 1456.9,1000.7 1453.2,1003.9 1454.3,1008.6 1450.2,1006.0 1446.1,1008.6 1447.2,1003.9 1443.5,1000.7 1448.3,1000.4" fill="#000"/><polygon points="1464.2,975.0 1466.1,979.5 1470.9,979.8 1467.2,983.0 1468.3,987.7 1464.2,985.1 1460.1,987.7 1461.2,983.0 1457.5,979.8 1462.3,979.5" fill="#000"/><polygon points="1477.3,952.2 1479.2,956.7 1484.0,957.0 1480.3,960.2 1481.4,964.9 1477.3,962.4 1473.2,964.9 1474.3,960.2 1470.6,957.0 1475.4,956.7" fill="#000"/><polyline points="1356.0,1107.0 1366.0,1101.0 1378.0,1088.7 1396.0,1065.0 1415.0,1041.0 1440.0,1011.0 1462.0,983.0 1478.0,959.0" fill="none" stroke="#000" stroke-width="1.5" stroke-linejoin="round" stroke-linecap="round" /></g><clipPath id="insclip"><rect x="1294.6" y="954.3" width="186.2" height="178.0"/></clipPath>
</svg></body></html>
